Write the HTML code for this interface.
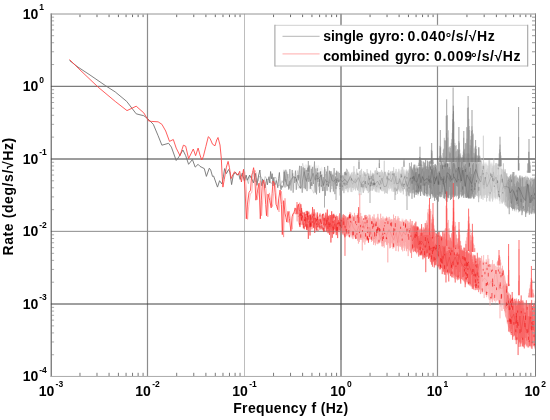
<!DOCTYPE html>
<html><head><meta charset="utf-8"><style>
html,body{margin:0;padding:0;background:#fff;}
svg{display:block;}
text{font-family:"Liberation Sans",Arial,sans-serif;font-weight:bold;fill:#000;}
.t{font-size:14px;}
.s{font-size:8.5px;}
.l{font-size:14px;}
</style></head><body>
<svg width="550" height="420" viewBox="0 0 550 420">
<rect width="550" height="420" fill="#fff"/>
<g fill="none"><path d="M147.5,13.85 V376.6" stroke="#8c8c8c" stroke-width="1.2"/><path d="M244.5,13.85 V376.6" stroke="#bdbdbd" stroke-width="1"/><path d="M341,13.85 V376.6" stroke="#4b4b4b" stroke-width="1"/><path d="M437.5,13.85 V376.6" stroke="#8c8c8c" stroke-width="1.2"/><path d="M50.9,86.4 H535.3" stroke="#7c7c7c" stroke-width="1.2"/><path d="M50.9,159 H535.3" stroke="#3a3a3a" stroke-width="1"/><path d="M50.9,231.35 H535.3" stroke="#8c8c8c" stroke-width="1"/><path d="M50.9,304 H535.3" stroke="#414141" stroke-width="1"/></g>
<defs><linearGradient id="gS" gradientUnits="userSpaceOnUse" x1="50.9" y1="0" x2="535.3" y2="0"><stop offset="0" stop-color="#7a7a7a"/><stop offset="0.51" stop-color="#8a8a8a"/><stop offset="0.59" stop-color="#8e8e8e"/><stop offset="0.62" stop-color="#c8c8c8"/><stop offset="0.73" stop-color="#c8c8c8"/><stop offset="0.75" stop-color="#8c8c8c"/><stop offset="0.87" stop-color="#8c8c8c"/><stop offset="0.89" stop-color="#cbcbcb"/><stop offset="0.93" stop-color="#cbcbcb"/><stop offset="0.95" stop-color="#949494"/><stop offset="1" stop-color="#949494"/></linearGradient><linearGradient id="gT" gradientUnits="userSpaceOnUse" x1="50.9" y1="0" x2="535.3" y2="0"><stop offset="0" stop-color="#555"/><stop offset="1" stop-color="#555"/></linearGradient><linearGradient id="gF" gradientUnits="userSpaceOnUse" x1="50.9" y1="0" x2="535.3" y2="0"><stop offset="0" stop-color="#d0d0d0" stop-opacity="0"/><stop offset="0.49" stop-color="#d0d0d0" stop-opacity="0"/><stop offset="0.51" stop-color="#cfcfcf" stop-opacity="0.3"/><stop offset="0.6" stop-color="#cfcfcf" stop-opacity="0.35"/><stop offset="0.62" stop-color="#d9d9d9" stop-opacity="1"/><stop offset="0.73" stop-color="#d9d9d9" stop-opacity="1"/><stop offset="0.75" stop-color="#b2b2b2" stop-opacity="1"/><stop offset="0.87" stop-color="#b2b2b2" stop-opacity="1"/><stop offset="0.89" stop-color="#dcdcdc" stop-opacity="1"/><stop offset="0.93" stop-color="#dcdcdc" stop-opacity="1"/><stop offset="0.95" stop-color="#b6b6b6" stop-opacity="1"/><stop offset="1" stop-color="#b6b6b6" stop-opacity="1"/></linearGradient><linearGradient id="gW" gradientUnits="userSpaceOnUse" x1="50.9" y1="0" x2="535.3" y2="0"><stop offset="0" stop-color="#6a6a6a"/><stop offset="0.6" stop-color="#5a5a5a"/><stop offset="0.62" stop-color="#747474"/><stop offset="0.73" stop-color="#747474"/><stop offset="0.75" stop-color="#4a4a4a"/><stop offset="0.88" stop-color="#4a4a4a"/><stop offset="0.89" stop-color="#8a8a8a"/><stop offset="0.93" stop-color="#8a8a8a"/><stop offset="0.95" stop-color="#4a4a4a"/><stop offset="1" stop-color="#4a4a4a"/></linearGradient><linearGradient id="rS" gradientUnits="userSpaceOnUse" x1="50.9" y1="0" x2="535.3" y2="0"><stop offset="0" stop-color="#ff3030"/><stop offset="0.51" stop-color="#f83232"/><stop offset="0.59" stop-color="#f83838"/><stop offset="0.62" stop-color="#fba4a4"/><stop offset="0.74" stop-color="#fba4a4"/><stop offset="0.75" stop-color="#f65a5a"/><stop offset="0.88" stop-color="#f86060"/><stop offset="0.89" stop-color="#fbb4b4"/><stop offset="0.93" stop-color="#fbb4b4"/><stop offset="0.95" stop-color="#f86060"/><stop offset="1" stop-color="#f86060"/></linearGradient><linearGradient id="rF" gradientUnits="userSpaceOnUse" x1="50.9" y1="0" x2="535.3" y2="0"><stop offset="0" stop-color="#fcb0b0" stop-opacity="0"/><stop offset="0.5" stop-color="#fcb0b0" stop-opacity="0"/><stop offset="0.51" stop-color="#f86a6a" stop-opacity="0.5"/><stop offset="0.6" stop-color="#f87070" stop-opacity="0.6"/><stop offset="0.62" stop-color="#fcb6b6" stop-opacity="1"/><stop offset="0.74" stop-color="#fcb6b6" stop-opacity="1"/><stop offset="0.75" stop-color="#fb8686" stop-opacity="1"/><stop offset="0.87" stop-color="#fb8c8c" stop-opacity="1"/><stop offset="0.89" stop-color="#fdc6c6" stop-opacity="1"/><stop offset="0.93" stop-color="#fdc6c6" stop-opacity="1"/><stop offset="0.95" stop-color="#fb8c8c" stop-opacity="1"/><stop offset="1" stop-color="#fb8c8c" stop-opacity="1"/></linearGradient><linearGradient id="rW" gradientUnits="userSpaceOnUse" x1="50.9" y1="0" x2="535.3" y2="0"><stop offset="0" stop-color="#e82020"/><stop offset="0.6" stop-color="#e82020"/><stop offset="0.62" stop-color="#f26a6a"/><stop offset="0.73" stop-color="#f26a6a"/><stop offset="0.75" stop-color="#e82020"/><stop offset="0.88" stop-color="#e82020"/><stop offset="0.89" stop-color="#f58080"/><stop offset="0.93" stop-color="#f58080"/><stop offset="0.95" stop-color="#e82020"/><stop offset="1" stop-color="#e82020"/></linearGradient></defs>
<path d="M69.5,60.5 78,67.1 90,75 105.7,85.8 115.2,91.9 126.7,101.4 136.2,113.8 140,114.8 143.8,115.7 147.6,118.6 153.3,124.3 158.1,135.7 161.9,145.2 168.6,143.3 171.4,147.1 176.2,160.5 179,156.7 182.9,150 185.7,155.7 188.6,164.3 192.4,159.5 195.2,167.1 198.1,164.3 200,166.4 204.3,168.6 206.4,176.4 209.3,168.2 210.7,170 212.5,176.4 213.6,176 217.5,187.1 219.6,180.7 221.8,183.9 222.9,180 224.6,168.6 226.4,173.6 228.6,169.5 229.8,172 231.6,184.6 233.3,175.1 235.4,172.1 237.1,175.1 238.6,173.5 240.1,179.4 242.3,173 244.4,181.1 246.1,175.1 247.4,180.3 249.6,175.1 251.7,178.6 253.4,182.9 255.6,173.4 256.9,185.4 258.5,176 259.9,170" fill="none" stroke="#727272" stroke-width="0.9" stroke-linejoin="round"/>
<path d="M259.9,170 261,180.34 261.8,185.84 262.6,178.98 263.4,183.06 264.2,183.98 265,187.96 265.8,183.88 266.6,178.9 267.4,184.79 268.2,180.13 269,176.67 269.8,182.99 270.6,171.49 271.4,178.82 272.2,173.66 273,185.94 273.8,177.56 274.6,185.23 275.4,184.43 276.2,180.54 277,183.57 277.8,187.71 278.6,178.28 279.4,172.46 280.2,184.91 281,189.69 281.8,185.49 282.6,187.37 283.4,185.45 284.2,171.73 285,180.46 285.8,179.33 286.6,183.92 287.4,185.45 288.2,184.83 289,188.45 289.8,180.75" fill="none" stroke="#747474" stroke-width="0.75" stroke-linejoin="round"/>
<path d="M246,177.98 247.2,180.55 248.4,183.66 249.6,175.98 250.8,177.85 252,178.21 253.2,171.32 254.4,175.01 255.6,181.83 256.8,178.29 258,181.16 259.2,176.64 260.4,176.23 261.6,177.58 262.8,182 264,182.35 265.2,176.56 266.4,178.34 267.6,179.88 268.8,179.51 270,181.01 271.2,183.6 272.4,182.04 273.6,177.46 274.8,177.7 276,177.58 277.2,184.32 278.4,185.7 279.6,185.06 280.8,185.28 282,180.68 283.2,182.94 284.4,171.58 285.6,181.89 286.8,171.59 288,178.26" fill="none" stroke="#8a8a8a" stroke-width="0.6" stroke-opacity="0.7" stroke-linejoin="round"/>
<path d="M290,174.83 290.5,173.06 291,170.87 291.5,170.68 292,173.34 292.5,172.49 293,171.8 293.5,171.75 294,171.76 294.5,171.42 295,173.67 295.5,172.11 296,169.52 296.5,169.86 297,172.98 297.5,171.93 298,172.84 298.5,167.9 299,170.15 299.5,170.36 300,170.12 300.5,170.49 301,169.81 301.5,167.79 302,168.12 302.5,168.67 303,169.35 303.5,165.38 304,164.5 304.5,166.51 305,164.95 305.5,164.11 306,164.59 306.5,164.81 307,164.42 307.5,166.52 308,167.45 308.5,166.16 309,164.64 309.5,164.59 310,164.31 310.5,165.87 311,165.39 311.5,164.35 312,167.38 312.5,166.28 313,166.76 313.5,164.04 314,166.83 314.5,165.76 315,168.02 315.5,164.63 316,166.28 316.5,164.26 317,166.82 317.5,166.31 318,164.54 318.5,165.46 319,165.26 319.5,168.28 320,169.17 320.5,167.42 321,168.65 321.5,166.64 322,166.6 322.5,169.76 323,171.88 323.5,169.82 324,170.37 324.5,169.33 325,169.81 325.5,172.71 326,171.14 326.5,173.09 327,173.76 327.5,173.95 328,173.15 328.5,170.72 329,172.44 329.5,173.4 330,173.99 330.5,173.09 331,170.96 331.5,173.15 332,172.37 332.5,172.66 333,172.46 333.5,171.84 334,172.99 334.5,172.72 335,171.84 335.5,173.78 336,172.02 336.5,173.59 337,175.44 337.5,171.36 338,173.81 338.5,172.03 339,173.4 339.5,171.33 340,171.36 340.5,173.16 341,171.99 341.5,175.21 342,172.66 342.5,173.77 343,172.78 343.5,175.58 344,171.29 344.5,172.38 345,174.42 345.5,173.1 346,174.74 346.5,172.86 347,172.6 347.5,172.12 348,171.75 348.5,175.55 349,172.02 349.5,174.61 350,172.14 350.5,174.97 351,174.7 351.5,175.85 352,173.06 352.5,175.15 353,172.87 353.5,173.52 354,172.26 354.5,171.69 355,171.3 355.5,174.58 356,173.13 356.5,171.45 357,175.93 357.5,175.67 358,173.42 358.5,175.71 359,173.61 359.5,175.53 360,172.2 360.5,175.39 361,174.44 361.5,172.11 362,174.6 362.5,173.81 363,171.3 363.5,174.68 364,172.62 364.5,171.92 365,175.05 365.5,174.94 366,174.58 366.5,173.34 367,174.65 367.5,171.02 368,175.35 368.5,172.42 369,175.08 369.5,172.23 370,175.31 370.5,173.87 371,174.95 371.5,174.33 372,174.38 372.5,172.94 373,174.32 373.5,173.46 374,173.65 374.5,174.2 375,172.41 375.5,170.67 376,172.43 376.5,175.06 377,172.04 377.5,173.01 378,171.32 378.5,172.99 379,170.81 379.5,173.04 380,175.39 380.5,170.74 381,172.04 381.5,173.15 382,174.1 382.5,172.03 383,170.8 383.5,173.1 384,173.57 384.5,170.45 385,170.74 385.5,175.26 386,170.38 386.5,174.17 387,174.9 387.5,171.33 388,172.54 388.5,174.62 389,171.66 389.5,173.92 390,171.68 390.5,171.71 391,171.29 391.5,174.59 392,173.16 392.5,170.83 393,170.76 393.5,170.88 394,175.2 394.5,170.81 395,173.02 395.5,170.67 396,171.09 396.5,174.54 397,171.99 397.5,171.2 398,172.99 398.5,170.53 399,174 399.5,170.38 400,170.75 400.5,172.68 401,174.28 401.5,174.38 402,171.89 402.5,173.27 403,173.34 403.5,170.69 404,173.97 404.5,170.73 405,174.72 405.5,170.99 406,169.57 406.5,168.99 407,171.74 407.5,169.51 408,172.3 408.5,169.37 409,169.55 409.5,170.38 410,166.58 410.5,166.47 411,169.24 411.5,168.56 412,169.76 412.5,168.66 413,167.91 413.5,166.9 414,165.6 414.5,168.73 415,166.73 415.5,168.85 416,168.4 416.5,164.62 417,168.07 417.5,167.25 418,165.3 418.5,168.3 419,168.57 419.5,165.59 420,165.72 420.5,167.9 421,166.02 421.5,164.67 422,168.46 422.5,166.25 423,167.33 423.5,167.43 424,167.73 424.5,165.62 425,164.39 425.5,167.48 426,166.09 426.5,165.76 427,167.07 427.5,163.52 428,167.07 428.5,167.37 429,162.71 429.5,164.97 430,165.09 430.5,166.72 431,166.17 431.5,162.07 432,164.7 432.5,166.49 433,165.28 433.5,165 434,164.23 434.5,166.15 435,164.62 435.5,163.62 436,165.23 436.5,165.48 437,164.96 437.5,165.52 438,161.28 438.5,162.41 439,161.13 439.5,163.34 440,160.93 440.5,161.7 441,161.66 441.5,161.24 442,165 442.5,162.02 443,160.06 443.5,161.46 444,161.49 444.5,163.89 445,161.5 445.5,162.93 446,160.82 446.5,159.67 447,161.7 447.5,162.65 448,163.73 448.5,163.2 449,159.56 449.5,161.89 450,163.02 450.5,159.04 451,158.63 451.5,160.5 452,158.43 452.5,157.99 453,161.26 453.5,161.78 454,157.65 454.5,161.72 455,161.93 455.5,160.49 456,158.52 456.5,160.23 457,158.86 457.5,159.89 458,158.82 458.5,160.54 459,160.5 459.5,161.02 460,156.37 460.5,157.23 461,157.18 461.5,157.64 462,157.98 462.5,158.27 463,157.31 463.5,155.46 464,158.68 464.5,159.01 465,156.27 465.5,159.62 466,155.63 466.5,156.87 467,157.25 467.5,158.26 468,157.07 468.5,157.3 469,159.22 469.5,155.93 470,158.86 470.5,156.88 471,158.96 471.5,159.16 472,159.33 472.5,160.12 473,158.34 473.5,157.77 474,155.77 474.5,157.98 475,159.76 475.5,156.9 476,157.1 476.5,157.93 477,160.65 477.5,159.05 478,157.38 478.5,158.28 479,160.3 479.5,162.45 480,161.94 480.5,160.46 481,161.65 481.5,160.87 482,162.39 482.5,163.83 483,164.74 483.5,160.53 484,164.77 484.5,163.41 485,161.56 485.5,164.59 486,161.68 486.5,163.8 487,165.09 487.5,165.9 488,162.4 488.5,166.17 489,165.45 489.5,165.05 490,164.83 490.5,162.04 491,164.88 491.5,163.07 492,161.75 492.5,166.25 493,162.1 493.5,165.71 494,164.52 494.5,165.63 495,165 495.5,163.63 496,165.3 496.5,165.96 497,163.94 497.5,162.84 498,165.03 498.5,162.24 499,166.73 499.5,163.36 500,164.29 500.5,166.94 501,167.7 501.5,166.42 502,169.67 502.5,169.87 503,168.16 503.5,171.42 504,168.05 504.5,171.45 505,172.26 505.5,170.96 506,173.84 506.5,175.27 507,176.52 507.5,176.21 508,176.53 508.5,177.62 509,176.16 509.5,176.06 510,176.61 510.5,177.15 511,177.23 511.5,174.46 512,173.48 512.5,174.09 513,176.12 513.5,178.55 514,176.65 514.5,175.56 515,176.93 515.5,174.51 516,176.01 516.5,174.17 517,178.57 517.5,176.75 518,176.74 518.5,178.44 519,178.7 519.5,175.75 520,177.06 520.5,178.19 521,175.07 521.5,177.89 522,175.62 522.5,176.54 523,176.94 523.5,177.86 524,176.73 524.5,176.9 525,176.9 525.5,175.26 526,179.36 526.5,175.56 527,178.18 527.5,176.07 528,177.33 528.5,178.14 529,177 529.5,180.26 530,179.08 530.5,176.56 531,179.29 531.5,177.82 532,177.98 532.5,177.32 533,179.42 533.5,178.44 534,177.08 534.5,177.77 535,179.41 535,213.21 534.5,214.41 534,212.36 533.5,214.61 533,211.73 532.5,211.69 532,213.58 531.5,214.76 531,212.41 530.5,213.52 530,214.08 529.5,211.46 529,213.4 528.5,212.46 528,210.54 527.5,213.41 527,213.05 526.5,213.14 526,214.67 525.5,214.12 525,212.23 524.5,211.86 524,210.64 523.5,211.26 523,211.41 522.5,214.1 522,212.12 521.5,210.84 521,210.4 520.5,210.62 520,212.16 519.5,210.68 519,211.86 518.5,212.89 518,209.57 517.5,209.36 517,209.29 516.5,209.96 516,212.66 515.5,207.83 515,210.17 514.5,211.71 514,209.31 513.5,207.83 513,210.65 512.5,211.03 512,207.76 511.5,208.7 511,206.94 510.5,206.8 510,207.39 509.5,206.7 509,209.78 508.5,207.04 508,208.87 507.5,208.15 507,207.22 506.5,205.53 506,207.08 505.5,205.66 505,205.36 504.5,204.82 504,202.09 503.5,202.69 503,201.13 502.5,203.88 502,202.47 501.5,202.07 501,202.37 500.5,198.8 500,199.66 499.5,201.28 499,201.62 498.5,196.8 498,197.5 497.5,200.07 497,198.77 496.5,199.27 496,196.45 495.5,200.83 495,197.99 494.5,196.4 494,200.2 493.5,199.43 493,195.66 492.5,197.74 492,200 491.5,197.42 491,199.67 490.5,197.88 490,195.38 489.5,198.85 489,195.98 488.5,195.95 488,194.81 487.5,195.03 487,195.61 486.5,199.02 486,195.2 485.5,194.56 485,196.07 484.5,195.54 484,195.37 483.5,198.26 483,195.47 482.5,198.92 482,195.85 481.5,197.03 481,198.92 480.5,195.14 480,195.14 479.5,197.23 479,199.34 478.5,194.99 478,197.89 477.5,196.06 477,195.9 476.5,195.79 476,195.12 475.5,195.09 475,197.58 474.5,198.78 474,199.09 473.5,199.35 473,197.74 472.5,196.95 472,196.36 471.5,196.88 471,195.8 470.5,197.91 470,198.21 469.5,197.2 469,198.63 468.5,198.39 468,197.94 467.5,196.37 467,197.78 466.5,197.74 466,196.77 465.5,196.59 465,193.98 464.5,193.58 464,197.07 463.5,193.68 463,196.64 462.5,193.49 462,197.92 461.5,196.71 461,196.84 460.5,194.72 460,194.14 459.5,196.56 459,193.79 458.5,194.28 458,196.33 457.5,195.93 457,195.3 456.5,196.84 456,197.76 455.5,194.58 455,196.69 454.5,194.72 454,198.4 453.5,194.3 453,196.32 452.5,194.81 452,193.79 451.5,196.36 451,195.33 450.5,197.32 450,194.64 449.5,194.89 449,195.95 448.5,194.82 448,198.42 447.5,197.15 447,196.27 446.5,195.32 446,197.45 445.5,196.29 445,198.72 444.5,198.32 444,198.17 443.5,198.12 443,198.45 442.5,195.33 442,194.03 441.5,194.84 441,197.86 440.5,197.28 440,196.2 439.5,197.12 439,196.95 438.5,194.85 438,198.76 437.5,196.22 437,196.32 436.5,193.85 436,197.19 435.5,196.06 435,198.34 434.5,194.7 434,195.47 433.5,197.51 433,195.6 432.5,196.58 432,193.79 431.5,194.07 431,194.06 430.5,196.43 430,195.69 429.5,195.26 429,197 428.5,193.3 428,197.16 427.5,193.62 427,193.99 426.5,194.99 426,196.83 425.5,192.49 425,195.85 424.5,192.82 424,195.49 423.5,195.37 423,194.96 422.5,193.8 422,191.67 421.5,192.04 421,191.61 420.5,195.23 420,191.26 419.5,191.67 419,193.76 418.5,194.16 418,193.46 417.5,193.87 417,192.43 416.5,194.17 416,192.9 415.5,191.85 415,194.51 414.5,194.33 414,192.09 413.5,193.79 413,193.69 412.5,193.33 412,192.51 411.5,190.43 411,191.78 410.5,193.22 410,190.97 409.5,193.3 409,193.12 408.5,191.8 408,191.6 407.5,192.29 407,189.93 406.5,188.51 406,191.35 405.5,191.88 405,189.42 404.5,188.48 404,188.97 403.5,192.79 403,189.39 402.5,192.38 402,188.8 401.5,192.8 401,190.58 400.5,189.33 400,191.99 399.5,192.34 399,188.36 398.5,189.57 398,192.51 397.5,192.15 397,189.21 396.5,188 396,189.21 395.5,189.97 395,187.92 394.5,192.19 394,188.54 393.5,190.2 393,191.04 392.5,187.59 392,191.14 391.5,191.38 391,188.49 390.5,188.83 390,188.79 389.5,189.14 389,192.1 388.5,187.84 388,191.52 387.5,191.82 387,188.08 386.5,188.2 386,190.26 385.5,190.15 385,191.76 384.5,189.85 384,189.4 383.5,191.94 383,190.94 382.5,191.84 382,190.8 381.5,191.45 381,190.09 380.5,187.91 380,187.53 379.5,191.31 379,187.78 378.5,188.26 378,190.7 377.5,187.8 377,191.2 376.5,189.91 376,188.21 375.5,187.17 375,191.39 374.5,189.78 374,188.67 373.5,187.55 373,190.68 372.5,190.8 372,191.08 371.5,190.97 371,189.2 370.5,190.55 370,191.57 369.5,187.8 369,189.05 368.5,189.76 368,186.56 367.5,191.34 367,189.69 366.5,190.14 366,191.37 365.5,187.11 365,191.27 364.5,190.89 364,188.46 363.5,188.44 363,188.68 362.5,186.53 362,190.89 361.5,186.29 361,188.81 360.5,190.88 360,189.99 359.5,187.31 359,188.38 358.5,189.11 358,190.29 357.5,189.51 357,186.91 356.5,188.39 356,188.54 355.5,188.46 355,189.88 354.5,188.23 354,189.99 353.5,190.83 353,189.81 352.5,186.82 352,188.29 351.5,186.57 351,190.9 350.5,186.96 350,187.51 349.5,191.03 349,186.7 348.5,190.13 348,188.44 347.5,187.13 347,189.68 346.5,190.56 346,191.02 345.5,191.11 345,188.46 344.5,191.5 344,187.74 343.5,187.35 343,188.79 342.5,189.42 342,191.32 341.5,187.48 341,191.56 340.5,189.06 340,191.21 339.5,187.33 339,187.91 338.5,187.78 338,191.99 337.5,187.22 337,187.3 336.5,190.47 336,189.37 335.5,188.44 335,187.95 334.5,188.29 334,188.64 333.5,190.95 333,187.98 332.5,187.73 332,190.76 331.5,189.63 331,187.05 330.5,188.49 330,191.31 329.5,190.25 329,191.47 328.5,190.15 328,189.3 327.5,191.32 327,191.8 326.5,188.73 326,187.12 325.5,188.47 325,187.28 324.5,189.09 324,187.25 323.5,191.56 323,190.83 322.5,190.16 322,191.54 321.5,187.83 321,189.77 320.5,190.52 320,191.81 319.5,187.88 319,189.53 318.5,190.34 318,190.94 317.5,191.58 317,190.76 316.5,189.72 316,188.16 315.5,190.77 315,188.81 314.5,186.83 314,191.54 313.5,190.42 313,186.96 312.5,189.95 312,187.17 311.5,190.89 311,188.31 310.5,189.82 310,190.96 309.5,189.26 309,187.42 308.5,190.33 308,188.92 307.5,188.61 307,186.67 306.5,188.56 306,187.64 305.5,187.32 305,186.48 304.5,190.18 304,189.93 303.5,190.28 303,186.75 302.5,189.7 302,189.72 301.5,187.59 301,188.84 300.5,189.1 300,189.72 299.5,186.03 299,188.73 298.5,188.89 298,188.45 297.5,188.17 297,189.37 296.5,188.79 296,186.29 295.5,190.44 295,189.8 294.5,189.32 294,189.6 293.5,189.2 293,188.24 292.5,187.87 292,187.74 291.5,186.85 291,187.56 290.5,188.82 290,189.35Z" fill="url(#gF)"/>
<path d="M284,169.79 285,187.47 285.87,169.74 286.91,186.56 287.89,173.91 288.74,189.68 289.86,169.08 291.04,190.6 292.21,169.96 293.14,192.69 294.02,176.69 294.71,183 295.44,170.61 296.31,189.81 297.47,175.32 298.45,180.34 299.55,165.83 300.32,188.63 301.17,166.05 302.23,192.71 303.09,167.38 304.15,188.23 304.81,168.22 305.44,189.22 306.13,169.95 307.02,191.12 307.92,167.94 308.73,181.88 309.67,165.55 310.28,188.93 311.34,168.74 312.05,185.93 312.67,166.88 313.48,184 314.5,161.44 315.21,192.65 315.92,168.5 316.54,194.33 317.2,171.85 317.93,181.91 318.88,172.46 319.59,192.82 320.35,171.64 321.19,186.55 321.78,174.34 322.43,191.1 323.31,177.09 323.93,190.96 324.61,167.02 325.39,195.77 326.13,173.92 327.07,190.72 327.72,165.86 328.5,186.7 329.47,170.67 330.32,192.19 331.05,171.22 331.94,186.53 332.84,174.93 333.37,191.57 334.11,168.03 334.91,194.16 335.46,176.41 335.99,189.07 336.67,170.74 337.29,185.8 338,171.69 338.51,182.36 339.31,172.99 340.21,195.58 340.84,172.56 341.46,187.6 342.23,175.18 342.73,190.6 343.41,175.53 343.95,193.16 344.46,172.18 344.88,184.58 345.43,171.5 345.99,188.98 346.47,168.76 347.08,188.18 347.47,169.63 347.99,192.24 348.64,171.71 349.14,187.77 349.7,176.68 350.14,187.16 350.48,174.7 351,191.81 351.5,172.6 351.86,192.09 352.19,180.09 352.62,188.02 352.97,171.86 353.42,187.98 353.9,166.15 354.45,186.53 354.93,177.84 355.5,190.55 355.87,175.25 356.37,182.23 356.71,168.81 357.22,182.17 357.75,172.37 358.3,190.96 358.83,178.27 359.16,195.23 359.57,171.26 360.04,192.11 360.44,170.33 361.01,195.05 361.55,168.86 362.02,187.73 362.59,176.95 363.13,192.76 363.66,171.11 364.02,186.86 364.58,175.69 364.95,187.62 365.37,174.41 365.87,185.06 366.31,176.81 366.63,184.64 367.11,169.02 367.55,190.89 367.96,177.28 368.31,193.09 368.63,173.83 369.17,191.89 369.51,177.66 370.09,190.74 370.58,170.51 370.97,186.02 371.48,176.11 371.92,183.17 372.27,172.71 372.71,190.33 373.07,173.01 373.52,189.08 374.07,174.01 374.54,184.79 374.95,170.55 375.35,191.38 375.69,170.3 376.09,191.84 376.57,167.73 376.98,192.38 377.5,170.85 378.05,187.44 378.39,172 378.95,192.61 379.47,172.2 379.84,187.8 380.16,172.24 380.49,189.59 380.98,175.13 381.32,190.46 381.64,169.93 382.06,188.79 382.47,172.11 382.88,182.38 383.32,176.4 383.73,190.48 384.27,160.72 384.64,193.69 385.12,171.9 385.52,192.61 386,178 386.5,193.12 386.94,176.53 387.38,193.64 387.78,172.58 388.29,188.14 388.7,170.09 389.19,185.02 389.63,179.51 390.14,186.44 390.68,171.6 391.22,187.65 391.78,178.55 392.15,184.94 392.64,178.67 393.1,191.74 393.64,167.28 394.01,191.66 394.36,174.59 394.72,189.7 395.26,179.44 395.7,195.08 396.1,168.94 396.66,185.39 397.11,179.13 397.47,193.93 397.85,177.82 398.39,189.18 398.84,168.82 399.16,187.57 399.49,178.29 399.85,190.84 400.3,176.51 400.8,192.79 401.18,169.76 401.56,188.2 402.02,167.04 402.36,190.7 402.76,166.78 403.34,194.37 403.9,169.57 404.48,189.16 404.86,174.4 405.24,187.07 405.8,176.33 406.29,196.1 406.74,171.63 407.23,191.35 407.62,178.68 408.1,194.85 408.53,172.97 408.98,196.3 409.45,162.92 409.98,185.39 410.54,166.42 410.92,193.29 411.43,162.42 411.97,198.83 412.45,170.38 412.82,189.98 413.25,171.59 413.58,189.44 413.97,164.72 414.36,197.47 414.83,164.62 415.26,185.3 415.75,173.68 416.07,195.01 416.5,171.99 416.95,191.7 417.38,170.26 417.96,192.4 418.41,174.37 418.89,192 419.28,167.02 419.78,190.8 420.17,163.86 420.59,195.98 421.13,160.68 421.63,190.68 422.1,175.6 422.67,185.64 423.25,161.52 423.6,184.44 424.08,171.41 424.4,195.74 424.73,162.61 425.11,186.23 425.67,159.63 426.19,190.3 426.7,169.01 427.11,196.43 427.61,160.7 427.95,184.31 428.35,169.46 428.69,184.98 429.11,161.8 429.6,188.14 429.98,160.88 430.42,198.77 430.9,171.91 431.32,189.31 431.74,160.01 432.14,194.29 432.62,159.88 433.18,186.13 433.59,167.67 433.92,197.48 434.29,170.39 434.62,200.93 435.06,164.36 435.52,197.71 436.04,168.58 436.57,199.64 437.06,172.96 437.55,194.98 437.91,175.26 438.36,201.58 438.76,171.57 439.08,195.37 439.59,171.35 440.13,184.88 440.6,165.07 441.11,196.99 441.67,160.89 442.09,192.31 442.45,164.84 442.78,189.39 443.19,168.53 443.53,185.11 443.94,169.85 444.36,198.55 444.75,161.89 445.29,183.06 445.83,156.77 446.16,200.51 446.6,163.13 446.93,201.92 447.34,163.33 447.86,197.4 448.42,168.74 448.76,198.21 449.29,167.14 449.74,186.92 450.07,169.07 450.54,200.03 451.09,175.91 451.49,199 451.89,159.02 452.3,197.36 452.8,163.69 453.23,180.49 453.81,162.76 454.26,196.86 454.8,164.46 455.15,195.7 455.56,169.68 456.02,183.48 456.36,168.01 456.77,185.94 457.27,160.16 457.73,186.62 458.26,156.36 458.6,199.12 458.94,154.33 459.25,197.95 459.73,157.39 460.16,182.79 460.61,167.65 461.1,191.95 461.64,158.14 462.03,195.8 462.44,167.67 462.95,194.94 463.4,170.09 463.81,197.87 464.25,165.65 464.81,185.83 465.38,164.11 465.78,197.72 466.25,167.53 466.65,198.01 467.07,153.53 467.61,197.3 468.02,173.77 468.36,197.69 468.76,153.32 469.28,198.27 469.66,171.79 470.13,198.56 470.58,167.93 471.16,198.29 471.73,174.04 472.06,194.22 472.56,164.6 473.06,192.07 473.52,163.12 474.02,184.72 474.53,171.47 474.96,196.84 475.31,158.08 475.7,193.92 476.15,154.67 476.65,183.18 477.18,155.65 477.67,192.53 478.15,163.99 478.65,202.16 479.02,162.64 479.46,183.84 480.01,156.78 480.56,195.23 481.02,158.38 481.36,198.84 481.7,166.19 482.02,187.6 482.5,173.72 483.03,199.84 483.37,135.68 483.83,195.16 484.25,166.19 484.78,197.96 485.34,172.05 485.9,194.57 486.23,169.72 486.59,201.52 487.08,176.4 487.5,198.04 487.9,168.3 488.4,193.17 488.95,160.21 489.28,200.83 489.63,160.32 490,201.52 490.44,172.42 490.78,195.3 491.1,178.66 491.62,190.37 492.17,168.17 492.55,201.48 493.07,166.28 493.4,186.58 493.84,158.26 494.31,192.89 494.74,175.96 495.24,198.29 495.63,163.16 496,189.87 496.51,163.13 497.07,188.26 497.44,175.16 497.97,196.74 498.35,168.85 498.74,187.94 499.14,179.93 499.66,197.66 500.02,174.7 500.39,192.24 500.91,174.72 501.33,191.16 501.67,169.09 502.07,203.5 502.39,177.9 502.89,189.21 503.38,163.39 503.85,200.53 504.24,171.78 504.58,191.5 505.13,169.37 505.63,202.28 505.97,183.37 506.31,196.71 506.77,173.33 507.2,206.65 507.75,182.41 508.33,200.46 508.69,182.02 509.23,214.18 509.6,181.01 510.03,198.83 510.44,174.65 510.95,203.11 511.34,187.6 511.66,207.77 512.13,186.06 512.51,209.04 513,172 513.54,208.7 513.87,172.01 514.29,209.07 514.62,183.85 515.19,199.46 515.63,186.41 516.04,205.24 516.52,182.64 516.94,204 517.42,180.97 517.83,204.04 518.22,182.12 518.6,209.94 519.02,183.2 519.53,211.23 519.92,175.48 520.26,207.91 520.6,179.37 521.06,209.66 521.56,186.58 521.98,215.15 522.51,178.17 522.84,202.99 523.3,186.8 523.63,202.36 524.21,186.63 524.77,199.26 525.33,186.1 525.66,216.97 526.15,181.58 526.57,212.08 527.01,180.06 527.55,210.72 528.11,183.64 528.57,206.79 529.02,184.53 529.36,214.68 529.69,192.14 530.06,208.25 530.58,181.61 531.06,202.98 531.47,186.62 531.98,213.69 532.55,184.56 532.91,209.86 533.35,181.55 533.67,206.1 534.21,178.96 534.79,212.55 535.19,176.36" fill="none" stroke="url(#gS)" stroke-width="0.6" stroke-linejoin="round"/>
<path d="M290,185.65 291.36,180.14 293.32,176.33 295.74,177.8 298.73,185.72 301.18,188.14 304.1,171.62 306.48,181.45 308.15,172.74 310.44,181.25 313.06,173.28 315.15,180.3 316.72,174.51 318.41,179.01 321.27,175.1 323.19,185.65 325.53,179.53 328.48,186.46 330.75,173.89 331.98,180.46 333.79,181.32 336.18,178.58 338.07,181.37 340.3,179.51 342.26,181.77 345.07,179.37 347.69,182.75 350.15,176.48 352.59,180.65 355.43,182.82 358.4,177.56 361.17,184.35 363.66,180.72 366.33,188.21 368.9,175.79 370.74,186.4 372.96,174.58 374.79,184.58 377.37,181.16 379.63,185.21 381.97,178.1 383.93,186.53 386.37,186.22 388.39,178.54 391.26,181.64 394.11,173.18 396.33,183.61 398.41,183.43 399.65,178.61 401.94,185.65 403.19,180.64 404.44,176.96 407.39,186.54 410.34,177.76 412.01,183.74 413.74,176.17 414.96,180.39 416.91,182.35 419.11,173.77 420.93,182.8 422.36,176.64 424.26,180.65 427.26,178.4 429.96,182.57 431.92,169.34 434.34,184.02 436.55,177.31 438.17,184.66 439.51,172.79 441.21,180.19 443.26,178.69 445.42,193.83 447.1,172.7 449.65,174.6 451.43,180.24 454.2,176.88 456.91,182.23 458.64,167.15 461.47,181.01 462.73,170.18 465.23,186.55 466.92,174.9 468.74,178.42 471.63,183.62 473.76,175.09 475.74,169.42 478.11,177.36 480.78,182.06 482.63,169.9 483.86,185.16 485.17,177.66 486.92,186.77 489.8,179.88 491.94,174.18 493.32,181.49 496.08,177.15 498.7,194.9 501.46,174.41 503.73,186.84 506.36,186.6 508.88,187.43 510.1,192.98 512.31,189.55 513.68,191.19 516.57,200.97 518.35,187.23 520.75,191.35 522.83,197.05 525.3,200.65 527.46,183.86 530.05,203.02 531.54,195.26 533.13,198.3 534.62,194.22" fill="none" stroke="url(#gW)" stroke-width="0.5" stroke-opacity="0.7" stroke-linejoin="round"/>
<path d="M290,181.45 291.73,178.05 293.63,177.05 296.07,181.6 297.7,170.48 299.98,183.34 302.73,163.19 305.54,179.63 308.91,177.92 310.92,186.93 313.69,193.29 315.66,174.7 318.65,186.79 320.4,174.72 323.55,185.21 325.82,169.17 327.98,182.19 330.1,183.08 332.79,173.81 335.07,184.31 337.61,178.05 339.33,181.96 341.77,176.08 343.81,178.23 346.8,182.48 349.73,178.57 352.65,184.32 355.5,178.72 357.32,190.24 360.15,174.97 363.4,192.79 365.04,177.28 368.09,172.94 369.66,186.45 372.31,178.59 374.31,182.04 376.78,187.07 379.79,179.93 381.73,184.27 384.87,171.94 387.28,180.28 390.31,178.73 392.07,170.96 394.18,184.14 396.06,176.01 397.89,190.43 399.42,180.61 402.42,188.5 404.21,189.03 405.75,181.02 409.09,195.75 412.11,167.55 413.97,181.33 415.6,172.21 417.94,195.47 419.8,181.31 422.31,168.77 424.57,191.95 426.62,193.63 428.85,175.59 432.31,197.81 435.4,167.02 438.87,184.83 441.25,176.83 444.11,186.78 447.01,175.44 450.5,181.7 453.93,163.05 455.85,172.38 458.85,167.26 460.69,181.53 462.6,158.49 465.91,187.33 468.25,198.46 470.19,176.54 473.35,198.31 476.33,164.34 478.62,183.54 480.62,175.9 484.06,188.73 486.71,172.06 488.31,175.07 491.62,191.82 493.48,171.88 495.56,184.02 498.03,181.4 499.91,203.82 502.79,186.86 505.47,188.98 508.08,180.17 511.52,203.68 513.15,191.08 516.06,197.37 518.12,206.01 519.67,187.71 522.29,208.71 524.9,209.86 528.36,185.09 531.29,202.37 534.28,187.55" fill="none" stroke="url(#gW)" stroke-width="0.45" stroke-opacity="0.4" stroke-linejoin="round"/>
<path d="M379.75,175.67 v1.27 M450.03,175.26 v3.96 M498.63,191.1 v1.15 M426.06,182.16 v1.15 M406.95,177.04 v1.65 M485.27,177.16 v1.31 M380.42,187 v2.17 M335.9,172.71 v2.54 M453.55,173.59 v3.54 M418.5,185.73 v2.7 M434.75,176.95 v1.33 M462.62,186.4 v3.18 M392.79,173.59 v1.56 M425.06,183.47 v1.08 M521.02,198.81 v3.17 M532.1,198.39 v2.48 M344.98,182.75 v3.1 M523.42,206 v2.47 M498.87,194.14 v2.25 M438.56,181.33 v2.44 M404.92,175.85 v1.56 M365.55,181.07 v2.98 M490.74,173.41 v2.55 M401.07,173.78 v3.95 M372.2,182.71 v3.07 M478.86,186.95 v3.84 M368.61,182.85 v1.95 M362.98,184.06 v3.25 M469.31,163.11 v3.9 M443.94,176.35 v3.74 M317.37,173.02 v1.43 M370.23,185.03 v1.45 M476.53,180.1 v1.99 M498.19,167.52 v1.73 M412.56,176.68 v2.15 M534.31,196.37 v2.98 M401.68,175.58 v1.31 M475.12,182.94 v3.97 M351.57,178.41 v2.13 M430.55,166.38 v3.39 M469.53,162.6 v3.14 M373.12,179.28 v1.6 M458.56,179.19 v1.07 M326.63,183.89 v1.4 M404.37,183.69 v1.51 M411.97,177.51 v1.42 M483.23,165.74 v3.48 M369.84,178.06 v1.67 M499.36,195.73 v1.57 M443.99,164.98 v2.19 M343.87,182.7 v1.61 M439.99,191.9 v1.75 M321.48,185.45 v1.16 M471.32,189.05 v1.4 M416.24,190.36 v1.45 M494.38,185.61 v1.22 M331.82,187.48 v1.2 M377.22,172.74 v1.77 M342.42,185.48 v1.24 M317.29,177.99 v1.6 M417.32,168.69 v1.56 M374.07,183 v3.48 M336.38,179.52 v3.57 M420.64,185.3 v3.55 M371.09,181.68 v2.61 M339.97,183.25 v3.62 M299.27,186.63 v1.16 M388.88,173.15 v2.14 M429.35,179.02 v2.06 M417.88,183.2 v2.96 M327.14,180.94 v1.2 M447.46,164.07 v2.67 M346.1,172.94 v2.46 M365,172.43 v3.35 M346.9,182.69 v2.25 M483.17,173.07 v1.39 M374.27,183.06 v1.94 M491.78,175.91 v1.57 M431.01,180.49 v2.75 M296.54,178.88 v2.78 M326.57,171.41 v2.41 M445.34,163.81 v3.37 M371.16,176.14 v2.73 M311.35,182.18 v3.71 M295.28,176.93 v1.23 M319.24,182.74 v3.08 M345.13,172.02 v2.88 M403.24,183.75 v3.31 M492.85,178.12 v2.8 M516.88,189.73 v2.49 M373.6,182.32 v2.73 M472.11,185.49 v1.37 M502.75,192.09 v1.32 M387.24,176.23 v3.11 M534.62,192.82 v2.02 M408.97,187.11 v1.54 M465.43,168.94 v3.07 M502.19,178.9 v3.61 M443.28,179.56 v2.86 M320.73,171.18 v2.88 M511.53,179.49 v2.74 M517.54,197.13 v3.35 M497.52,180.34 v2.64 M508.97,178.48 v3.08 M474.74,187.43 v2.61 M490.15,192.4 v1.14 M292.8,173.34 v3.08 M330.07,171.24 v2.91 M340.77,175.31 v3.05 M424.1,183.9 v2.05 M443.19,182.93 v1.03 M435.56,178.13 v2.53 M396.64,188.57 v2.68 M339.89,188.09 v1.12 M361.26,184.08 v3.01 M336.42,184.22 v1.91 M436.69,175.82 v2.43 M442.68,165.67 v3.25 M357.86,173.36 v1.64 M317.53,168.16 v3.18 M319.48,178.9 v3.55 M298.82,174.98 v3.48 " stroke="#5a5a5a" stroke-width="0.7" stroke-opacity="0.7" fill="none"/>
<path d="M306.91,171.59 V170.51 M307.36,171.59 V169.46 M307.81,171.59 V167.46 M308.26,171.59 V165.52 M308.71,171.59 V166.87 M309.16,171.59 V167.73 M309.61,171.59 V170.74 M358.97,169.05 V161.98 M379.27,168.03 V163.23 M379.72,168.03 V167.61 M403.97,166.8 V161.3 M418.24,166 V164.97 M418.69,166 V162.68 M419.14,166 V160.07 M419.59,166 V156.82 M420.04,166 V157.18 M420.49,166 V159.07 M420.94,166 V158.44 M421.39,166 V163.87 M421.84,166 V165.01 M429.94,163.66 V162.15 M430.39,163.66 V161 M430.84,163.66 V159.3 M431.29,163.66 V149.89 M431.74,163.66 V153.13 M432.19,163.66 V150.79 M432.64,163.66 V158.34 M433.09,163.66 V159.15 M433.54,163.66 V162.55 M438.91,162 V157.61 M439.36,162 V155.83 M439.81,162 V145.85 M440.26,162 V148.04 M440.71,162 V146.73 M441.16,162 V155.42 M441.61,162 V157.18 M442.45,162 V158.28 M442.9,162 V153.04 M443.35,162 V149.6 M443.8,162 V148.54 M444.25,162 V137.83 M444.7,162 V140.15 M445.15,162 V140.93 M445.6,162 V140.28 M446.05,162 V115.79 M446.5,162 V132.94 M446.95,162 V115.83 M447.4,162 V115.08 M447.85,162 V137.52 M448.3,162 V130.27 M448.75,162 V147.49 M449.2,162 V151.54 M449.65,162 V146.61 M450.1,162 V152.86 M450.55,162 V153.11 M451,162 V157.13 M452.08,162 V150.51 M452.53,162 V130.02 M452.98,162 V123.52 M453.43,162 V110.99 M453.88,162 V139.35 M454.33,162 V156.58 M449.05,162 V159.11 M449.5,162 V153.98 M449.95,162 V152.54 M450.4,162 V147.76 M450.85,162 V145.96 M451.3,162 V142.77 M451.75,162 V139.14 M452.2,162 V132.94 M452.65,162 V119.19 M453.1,162 V113.82 M453.55,162 V111.41 M454,162 V121.64 M454.45,162 V144.99 M454.9,162 V142.92 M455.35,162 V145.9 M455.8,162 V151.49 M456.25,162 V145.18 M456.7,162 V150.65 M457.15,162 V156.57 M457.04,162 V157.08 M457.49,162 V149.19 M457.94,162 V149.28 M458.39,162 V150.45 M458.84,162 V141.05 M459.29,162 V142.74 M459.74,162 V149.61 M460.19,162 V155.36 M460.64,162 V153.38 M461.49,162 V159.8 M461.94,162 V156.79 M462.39,162 V157 M462.84,162 V154.9 M463.29,162 V151.47 M463.74,162 V137.77 M464.19,162 V149.66 M464.64,162 V152.76 M465.09,162 V153.97 M465.54,162 V158.83 M465.99,162 V158.67 M463.85,162 V156.26 M464.3,162 V157.18 M464.75,162 V148.69 M465.2,162 V143.29 M465.65,162 V143.05 M466.1,162 V143.25 M466.55,162 V127.14 M467,162 V138.65 M467.45,162 V107.84 M467.9,162 V127.56 M468.35,162 V107.33 M468.8,162 V118.91 M469.25,162 V126.05 M469.7,162 V130.06 M470.15,162 V148.13 M470.6,162 V150.35 M471.05,162 V145.96 M471.5,162 V150.87 M471.95,162 V156.89 M472.4,162 V157.06 M469.22,162 V155.37 M469.67,162 V153.91 M470.12,162 V145.1 M470.57,162 V139.73 M471.02,162 V135.91 M471.47,162 V130.99 M471.92,162 V126.28 M472.37,162 V129.95 M472.82,162 V134.87 M473.27,162 V133.56 M473.72,162 V152.97 M474.17,162 V148.39 M474.62,162 V153.32 M475.07,162 V158.47 M473.29,162 V160.58 M473.74,162 V158.64 M474.19,162 V157.14 M474.64,162 V155.51 M475.09,162 V146.61 M475.54,162 V151.74 M475.99,162 V145.8 M476.44,162 V148.9 M476.89,162 V155.74 M477.34,162 V159.04 M477.79,162 V160.18 M477.04,162 V160.64 M477.49,162 V158.16 M477.94,162 V155.6 M478.39,162 V157.16 M478.84,162 V148.11 M479.29,162 V155.86 M479.74,162 V155.49 M480.19,162 V159.8 M480.64,162 V161.01 M498.24,166.36 V163.87 M498.69,166.36 V159.14 M499.14,166.36 V153.36 M499.59,166.36 V149.36 M500.04,166.36 V144.62 M500.49,166.36 V152.06 M500.94,166.36 V155.49 M501.39,166.36 V159.83 M518.25,170.42 V156.02 M518.7,170.42 V137.05 M519.15,170.42 V163.2 M527.24,172.69 V170.52 M527.69,172.69 V163.54 M528.14,172.69 V163.06 M528.59,172.69 V151.84 M529.04,172.69 V151.78 M529.49,172.69 V160.18 M529.94,172.69 V161.84 M530.39,172.69 V165.36 " stroke="#969696" stroke-width="0.6" fill="none"/><path d="M308.3,171.59 V161 M359,169.05 V160 M379.3,168.03 V159.5 M404,166.8 V159.5 M420,166 V146.7 M431.7,163.66 V143 M440.3,162 V130 M446.7,162 V99.3 M453.1,162 V87.5 M453.3,162 V105.7 M458.9,162 V127 M463.8,162 V131 M468.1,162 V96 M472,162 V110 M475.6,162 V140 M478.8,162 V147 M500,166.36 V136.7 M518.6,170.42 V107 M529,172.69 V139 " stroke="#7a7a7a" stroke-width="0.7" fill="none"/>
<path d="M324.5,187 V207.6 M370,186.6 V203 M407,188.57 V210 M395,187.6 V200 M336,187 V200 " stroke="#999" stroke-width="0.8" fill="none"/>
<path d="M69.5,59.5 78.1,68.1 98.1,87.1 115.2,101.4 127,110.6 136.2,106.2 143.8,112.9 148.6,120.9 151.4,121.4 158.1,121.8 161.9,124.3 165.7,131 169.5,141.4 173.3,139.5 176.2,148.1 180,155.7 183.4,145.2 185.7,146.2 188.6,158.6 193.3,149 195.6,155.7 198.1,148.1 200,155 201.7,160 203.3,156.7 205.8,146.7 208.3,136.7 210,138.3 212.5,144.2 215,145.8 216.7,140 218,137.5 220,145 221.3,158.3 222.2,176.7 222.9,187.1 224.3,179.3 226.4,167.1 228.1,161.4 229.4,167.4 231.1,178.6 232.9,174.7 234.6,171.7 236.3,173.9 238,175.1 239.7,171.3 241.4,182 243.5,169.3 245.1,191 246.3,218.8 247.4,204.9 249,192.5 250.5,190.2 251.6,175.5 252.6,172.58 253.6,167.7 254.7,175.5 255.9,200.2 257.5,191 259,183.2 260.3,218.8 261.3,200.2 262.4,183.2 263.7,180.1 264.9,191 265.7,204.34 266.5,215.7 268,194.1 268.9,197.45 269.8,200.7 271.2,207.9 272.1,193.81 273,181.1 274.2,183 275.1,192.22 276,204.3 276.9,206.58 277.8,209.6 278.7,198.9 280.1,190 281.4,204.3 282.3,234.6 283.7,200.7 285,213.2 285.9,217.36 286.8,222.1 288,211.4 289.4,218.6 290.9,231.1 292.1,216.8 293,213.54 293.9,213.2 295.1,207.9 296.7,213 297.55,207.21 298.4,204.3 299.2,209.45 300,211.4" fill="none" stroke="#ff4040" stroke-width="0.85" stroke-linejoin="round"/>
<path d="M244.8,171.52 246.4,189.72 247.6,219.42 248.7,206.57 250.3,193.8 251.8,192.69 252.9,177.66 253.9,174.07 254.9,170.21 256,172.66 257.2,199.82 258,194.8 258.8,190.91 260.3,180.59 261.6,215.83 262.6,202.18 263.7,186.1 265,181.81 266.2,189.89 267,202.94 267.8,216.93 269.3,192.9 270.2,197.07 271.1,202.14 272.5,206.58 273.4,196.44 274.3,182.8 275.5,185.93 276.4,197.05 277.3,207.22 278.2,210.18 279.1,211.9 280,201.38 281.4,191.25 282.7,204.63 283.6,237.14 285,198.24 286.3,212.42 287.2,216.97 288.1,222.74 289.3,211.27 290.7,220.36 292.2,229.27 293.4,214.17 294.3,213.21 295.2,210.96 296.4,210.68 298,210.8 298.85,205.37 299.7,202.66 300.5,205.05 301.3,210.66" fill="none" stroke="#ff5a5a" stroke-width="0.7" stroke-opacity="0.6" stroke-linejoin="round"/>
<path d="M296,208.63 296.5,207.97 297,208.45 297.5,210.14 298,207.75 298.5,207.89 299,209.54 299.5,210.92 300,209.72 300.5,211.12 301,210.29 301.5,210.19 302,211.12 302.5,210.01 303,212.3 303.5,213.28 304,213.19 304.5,214.21 305,210.86 305.5,213.99 306,214.59 306.5,210.85 307,212.53 307.5,212.44 308,213.3 308.5,211.72 309,211.46 309.5,214.58 310,213.33 310.5,215.4 311,213.31 311.5,213.66 312,211.71 312.5,214.46 313,211.33 313.5,212.23 314,213.49 314.5,212.24 315,211.65 315.5,213.37 316,213.61 316.5,214.56 317,215.87 317.5,212.82 318,215.99 318.5,216.65 319,212.93 319.5,213.2 320,214.11 320.5,212.52 321,213.95 321.5,215.12 322,215.46 322.5,213.48 323,214.35 323.5,212.91 324,213.7 324.5,216.34 325,214.08 325.5,216.71 326,214.8 326.5,213.94 327,217.17 327.5,213.39 328,216.46 328.5,215.83 329,214.92 329.5,213.77 330,217.26 330.5,215.95 331,217.14 331.5,214.73 332,213.73 332.5,217.23 333,215.89 333.5,214.37 334,214.1 334.5,213.61 335,215.44 335.5,216.41 336,215.15 336.5,213.88 337,216.44 337.5,217.39 338,218.7 338.5,215.71 339,214.88 339.5,217.71 340,218.28 340.5,215.33 341,218.57 341.5,217.18 342,215.82 342.5,214.15 343,215.31 343.5,215.97 344,215.97 344.5,218.17 345,217.35 345.5,215.8 346,215.51 346.5,217.44 347,215.89 347.5,217.3 348,218.44 348.5,218.71 349,215.55 349.5,216.9 350,216.54 350.5,216.59 351,216.19 351.5,215.46 352,217.84 352.5,214.56 353,215.61 353.5,216.73 354,218.69 354.5,215.71 355,217.59 355.5,214.78 356,215.24 356.5,215.86 357,217.82 357.5,217.47 358,217.32 358.5,218.01 359,215.38 359.5,219.12 360,218.37 360.5,215.96 361,215.93 361.5,218.36 362,215.32 362.5,219.31 363,219.42 363.5,218.95 364,217.8 364.5,219.81 365,219.65 365.5,219.08 366,215.99 366.5,217.46 367,217.2 367.5,217.15 368,217.27 368.5,218.39 369,217.74 369.5,217.52 370,216.11 370.5,217.77 371,218.05 371.5,219.85 372,216.54 372.5,215.92 373,217.29 373.5,217.08 374,218.87 374.5,217.28 375,218.88 375.5,217.7 376,220.67 376.5,217.31 377,217.74 377.5,216.04 378,219.04 378.5,216.6 379,218.68 379.5,218.67 380,220.41 380.5,220.32 381,220.82 381.5,220.78 382,218.93 382.5,220.32 383,217.35 383.5,219.92 384,217.15 384.5,219.57 385,217.03 385.5,219.77 386,220.68 386.5,221.47 387,217.74 387.5,219.89 388,216.98 388.5,218.43 389,220.05 389.5,218.25 390,220.67 390.5,219.4 391,217.74 391.5,221.43 392,221.65 392.5,219.21 393,219.8 393.5,218.89 394,221.16 394.5,222.21 395,220.87 395.5,220.27 396,218.61 396.5,221.73 397,221.54 397.5,220.81 398,217.83 398.5,220.45 399,221.28 399.5,220.82 400,221.93 400.5,220.53 401,221.82 401.5,221.81 402,217.82 402.5,221.5 403,218 403.5,221.26 404,221.44 404.5,222.84 405,221.33 405.5,218.59 406,219.96 406.5,218.93 407,219.36 407.5,223.16 408,220.54 408.5,223.37 409,221.23 409.5,222.43 410,222.42 410.5,225.22 411,225.25 411.5,222.07 412,226.61 412.5,226.64 413,224.01 413.5,225.51 414,225.48 414.5,227.7 415,226.47 415.5,226.06 416,228.22 416.5,226.76 417,227.7 417.5,226.4 418,226.55 418.5,227.05 419,228.12 419.5,229.07 420,230.16 420.5,228.02 421,229.28 421.5,226.7 422,226.79 422.5,229.59 423,230.08 423.5,226.99 424,227.6 424.5,230.09 425,227.98 425.5,227.66 426,230.71 426.5,228.22 427,230.65 427.5,228.94 428,229.78 428.5,228.77 429,231.8 429.5,231.2 430,232.78 430.5,234.03 431,231.66 431.5,230.68 432,232.98 432.5,233.37 433,232.78 433.5,233.84 434,235.31 434.5,232.08 435,231.96 435.5,235.35 436,235.41 436.5,232.87 437,233.45 437.5,236.58 438,237.97 438.5,238.05 439,236.02 439.5,235.6 440,234.91 440.5,234.44 441,237.49 441.5,235.86 442,239.54 442.5,236.39 443,238.64 443.5,236.72 444,236.72 444.5,237.2 445,236.76 445.5,238.95 446,239.88 446.5,238.22 447,240.94 447.5,240.08 448,240.63 448.5,239.79 449,239.64 449.5,241.83 450,240.87 450.5,240.43 451,240.65 451.5,241.67 452,242.14 452.5,242.06 453,241.79 453.5,243.21 454,242.74 454.5,243.73 455,245.18 455.5,245.99 456,246.11 456.5,244.43 457,244.48 457.5,244.86 458,248.16 458.5,246.29 459,245.02 459.5,249.64 460,246.79 460.5,249.74 461,249.61 461.5,250.81 462,248.28 462.5,249.39 463,251.21 463.5,250.42 464,251.22 464.5,250.65 465,251.15 465.5,251.89 466,250.86 466.5,248.93 467,251.31 467.5,250.68 468,252.06 468.5,252.45 469,252.13 469.5,252.92 470,253.93 470.5,255.12 471,254.89 471.5,252.25 472,252.22 472.5,257.03 473,254.56 473.5,254.56 474,255.94 474.5,255 475,254.41 475.5,255.25 476,258.76 476.5,258.09 477,259.38 477.5,259.23 478,256.03 478.5,258.93 479,258.07 479.5,257.21 480,260.28 480.5,259.83 481,261.46 481.5,260.68 482,258.56 482.5,261.91 483,259.25 483.5,262.39 484,259.85 484.5,262.34 485,261.42 485.5,263.17 486,261.01 486.5,260.5 487,262.94 487.5,260.73 488,260.9 488.5,260.65 489,264.23 489.5,264.81 490,265.16 490.5,265.83 491,264.76 491.5,264 492,263.37 492.5,265.87 493,265.33 493.5,263.8 494,264.26 494.5,263.15 495,265.14 495.5,266.12 496,265.49 496.5,267.43 497,264.6 497.5,266.81 498,267.28 498.5,266.88 499,264.88 499.5,266.42 500,267.15 500.5,266.88 501,267.21 501.5,268.75 502,268.24 502.5,267.63 503,269.03 503.5,270.45 504,271.92 504.5,276.04 505,275.1 505.5,280.1 506,282.57 506.5,284.24 507,287.21 507.5,289.92 508,291.43 508.5,292.18 509,298.04 509.5,298.88 510,297.17 510.5,299.24 511,299.72 511.5,297.75 512,299.33 512.5,297.26 513,296.48 513.5,300.8 514,298.91 514.5,298.83 515,298.85 515.5,298.86 516,301.62 516.5,297.76 517,299.08 517.5,301.89 518,300.53 518.5,301.16 519,301.46 519.5,303.29 520,303.46 520.5,299.26 521,299.96 521.5,300.91 522,300.29 522.5,301.5 523,303.7 523.5,302.01 524,301.75 524.5,304.01 525,301.89 525.5,303.56 526,303.34 526.5,304.07 527,302.52 527.5,304.02 528,304.02 528.5,304.71 529,303.58 529.5,304.82 530,303.18 530.5,302.55 531,303.56 531.5,302.52 532,306.14 532.5,306.13 533,305.62 533.5,303.24 534,303.36 534.5,306.88 535,305.05 535,346.47 534.5,349.79 534,345.59 533.5,346.8 533,344.73 532.5,349.33 532,349.09 531.5,348.51 531,348.63 530.5,345.23 530,346.58 529.5,344.2 529,348.32 528.5,347.31 528,347.37 527.5,347.73 527,345.32 526.5,346.08 526,347.59 525.5,343.52 525,345.28 524.5,344.41 524,345.87 523.5,343.55 523,346.63 522.5,342.5 522,341.66 521.5,344.57 521,342.6 520.5,344.24 520,343.53 519.5,340.79 519,344.25 518.5,343.38 518,340.28 517.5,338.47 517,340.47 516.5,339.34 516,338.69 515.5,339.01 515,336.27 514.5,335.48 514,336.96 513.5,335.68 513,337.51 512.5,337.71 512,334.8 511.5,335.27 511,334.99 510.5,334.39 510,330.27 509.5,332.89 509,331.19 508.5,327.26 508,327.06 507.5,322.83 507,324.75 506.5,319.61 506,317.72 505.5,317.27 505,315.69 504.5,311.59 504,311.04 503.5,305.83 503,302.97 502.5,306.49 502,301.94 501.5,304.98 501,304.87 500.5,302.21 500,301.09 499.5,303.31 499,302.32 498.5,300.82 498,301.92 497.5,299.89 497,300.61 496.5,301.25 496,301.87 495.5,303.97 495,298.95 494.5,302.18 494,298.77 493.5,299.43 493,302.6 492.5,302.58 492,302.45 491.5,298.67 491,299.49 490.5,300.24 490,300 489.5,299.84 489,300.17 488.5,298.45 488,295.27 487.5,294.53 487,297.71 486.5,297.1 486,297.04 485.5,293.59 485,291.92 484.5,292.11 484,292.62 483.5,291.25 483,289.7 482.5,291.8 482,289.75 481.5,289.65 481,290.9 480.5,288.53 480,288.66 479.5,291.11 479,286.64 478.5,286.72 478,287.86 477.5,289.01 477,288.17 476.5,287.36 476,288.04 475.5,286.11 475,286.77 474.5,285.8 474,288.09 473.5,287.69 473,287.48 472.5,286.93 472,288.06 471.5,285.38 471,287.32 470.5,285.87 470,285.01 469.5,286.15 469,283.83 468.5,285.48 468,281.79 467.5,284.67 467,281.49 466.5,281.66 466,284.61 465.5,284.76 465,284.03 464.5,282.32 464,281.08 463.5,281.69 463,279.34 462.5,280.86 462,279.24 461.5,278.82 461,279.38 460.5,282.38 460,280.26 459.5,277.86 459,279.8 458.5,279.37 458,280.27 457.5,280.72 457,277.82 456.5,276.9 456,276.4 455.5,276.26 455,278.19 454.5,279.56 454,275.22 453.5,278.09 453,277.72 452.5,276.9 452,278.05 451.5,277.22 451,276.86 450.5,275.7 450,273.05 449.5,274.3 449,271.88 448.5,272.69 448,275.47 447.5,274.24 447,272.46 446.5,273.06 446,271.93 445.5,272.23 445,272.76 444.5,271.92 444,268.86 443.5,271.8 443,268.91 442.5,269.36 442,267.71 441.5,267.93 441,268.33 440.5,270.41 440,268.27 439.5,269.54 439,269.96 438.5,267.12 438,265.45 437.5,267.11 437,264.18 436.5,264.9 436,266.49 435.5,262.66 435,266.64 434.5,264.95 434,265.02 433.5,261.31 433,260.76 432.5,264.63 432,261.28 431.5,263.29 431,262.74 430.5,261.57 430,262.37 429.5,257.97 429,257.66 428.5,259.12 428,257.41 427.5,256.22 427,256.72 426.5,257.29 426,256.72 425.5,255.64 425,258.14 424.5,257.86 424,258.67 423.5,256.28 423,258.34 422.5,254.69 422,256.02 421.5,255 421,255.54 420.5,254.4 420,255.85 419.5,254.51 419,255.5 418.5,251.61 418,252.78 417.5,251.64 417,255.15 416.5,253.02 416,253.42 415.5,250.44 415,250.69 414.5,251.34 414,251.96 413.5,251.85 413,252.5 412.5,249.2 412,251.95 411.5,249.84 411,251.19 410.5,252.33 410,252.15 409.5,250.27 409,250.46 408.5,250.09 408,247.85 407.5,248.29 407,249.21 406.5,250.46 406,249.46 405.5,248.17 405,245.6 404.5,246.54 404,245.26 403.5,247.71 403,248.37 402.5,247.08 402,245.48 401.5,248.68 401,247.34 400.5,245.33 400,245.56 399.5,246.42 399,247.5 398.5,245.48 398,245.21 397.5,244.99 397,247.97 396.5,245.14 396,246.46 395.5,243.38 395,246.31 394.5,247.74 394,247.6 393.5,246.24 393,245.3 392.5,243.78 392,243.86 391.5,242.56 391,245.77 390.5,245.12 390,246.62 389.5,246.19 389,242.98 388.5,243.04 388,245.24 387.5,242.77 387,245.4 386.5,242.63 386,246 385.5,241.61 385,241.87 384.5,243.49 384,241.75 383.5,244.03 383,243.23 382.5,243.65 382,243.76 381.5,243.33 381,243.41 380.5,240.2 380,243.67 379.5,243.03 379,241.64 378.5,244.31 378,244.03 377.5,244.41 377,243.52 376.5,244.12 376,240.09 375.5,243.57 375,242.12 374.5,243.02 374,243.58 373.5,242.55 373,241.84 372.5,238.82 372,238.74 371.5,239.86 371,240.32 370.5,238.82 370,240.49 369.5,238.68 369,240.85 368.5,240.53 368,240.47 367.5,239.07 367,240.39 366.5,238.31 366,242.03 365.5,241.69 365,239.37 364.5,238.92 364,238.69 363.5,238.3 363,241.59 362.5,237.92 362,236.42 361.5,238.03 361,239.42 360.5,239.42 360,239.7 359.5,240.33 359,238.9 358.5,238.73 358,240.38 357.5,238.42 357,235.77 356.5,236.82 356,239.76 355.5,237.84 355,239.62 354.5,235.46 354,238.14 353.5,235.51 353,235.65 352.5,237.56 352,238.98 351.5,235.52 351,234.59 350.5,235.94 350,238.35 349.5,235.06 349,237.22 348.5,236.86 348,236.1 347.5,234.22 347,237.06 346.5,235.06 346,236.44 345.5,237.33 345,235.41 344.5,236.41 344,235.5 343.5,235.53 343,232.77 342.5,233.09 342,233.28 341.5,232.82 341,232.13 340.5,235.17 340,235.66 339.5,231.91 339,232.15 338.5,232.1 338,231.24 337.5,233.13 337,231.13 336.5,233.26 336,234.2 335.5,230.29 335,233.4 334.5,233.16 334,233.64 333.5,234.3 333,234.04 332.5,233.66 332,230.36 331.5,230.15 331,234.07 330.5,230.31 330,229 329.5,232.41 329,231.93 328.5,232.5 328,230.65 327.5,232.04 327,233.21 326.5,230.62 326,228.26 325.5,228.1 325,230.55 324.5,229.74 324,228.01 323.5,232.19 323,230.09 322.5,228.75 322,228.43 321.5,228.98 321,229.32 320.5,229.42 320,227.52 319.5,229.77 319,230.26 318.5,227.6 318,229.67 317.5,230.86 317,230.24 316.5,231.23 316,228.14 315.5,230.03 315,227.33 314.5,228.82 314,229.26 313.5,227.45 313,228.14 312.5,229.02 312,229.96 311.5,228.78 311,230.38 310.5,228.32 310,225.69 309.5,227.34 309,228.87 308.5,228.05 308,229.62 307.5,227.27 307,226.43 306.5,228.44 306,228.95 305.5,226.31 305,226.15 304.5,227.95 304,228.67 303.5,226.39 303,227.11 302.5,224.26 302,225.33 301.5,225.03 301,224.42 300.5,223.94 300,226.86 299.5,225.85 299,225.09 298.5,224.02 298,221.99 297.5,221.07 297,221.81 296.5,221.43 296,220.08Z" fill="url(#rF)"/>
<path d="M299,203.85 299.95,227.07 300.87,204.24 301.79,220.88 302.55,215.55 303.39,228.32 304.27,212.32 305.29,226.68 305.91,214.18 306.71,229.75 307.41,211.51 308.32,238.9 309.24,214.82 310.03,235.47 310.73,214.55 311.82,226.62 312.54,207.11 313.5,227.69 314.12,209.27 314.73,232.89 315.51,217.75 316.51,230.46 317.25,212.43 317.95,226.68 318.96,219.39 319.74,227.55 320.76,219.42 321.68,224.01 322.67,214.13 323.43,225.35 324.29,218.07 324.97,227.04 325.89,212.63 326.75,231.61 327.3,209.54 328.13,233.31 328.88,215.83 329.51,234.92 330.3,215.03 330.92,242.54 331.67,211.29 332.22,237.8 332.81,214.67 333.5,230.82 334.21,221.55 334.82,229.39 335.47,217.03 336.24,235.15 337.04,216.13 337.63,238.1 338.36,220.09 339.14,230.13 339.74,213.36 340.41,230.44 340.9,218.89 341.49,227.54 342.33,217.56 342.89,234.47 343.45,214.22 343.91,232.64 344.51,215.19 344.99,255.89 345.45,216.48 346.02,233.75 346.66,218.53 347.1,231.68 347.76,221.29 348.36,234.17 348.89,215.5 349.48,232.63 349.98,212.22 350.38,232 350.79,212.7 351.31,232.88 351.69,220.49 352.18,237.33 352.56,215 353,239.12 353.52,223.45 354.1,236.35 354.49,212.88 354.9,236.49 355.22,224.74 355.77,235.8 356.33,215.24 356.8,231.72 357.22,219.78 357.68,240.72 358.03,212.99 358.42,243.64 358.91,222.72 359.35,241.98 359.74,193.58 360.18,236.83 360.68,212.94 361.2,240.03 361.73,216.15 362.28,250.41 362.76,223.72 363.13,242.43 363.48,222.01 363.99,233.92 364.4,220.9 364.83,244.62 365.31,214.87 365.87,232.31 366.29,214.96 366.82,238.64 367.27,215.84 367.7,231.99 368.02,224.53 368.55,242.61 369.07,214.58 369.64,237.2 370.01,214.83 370.49,238.64 371.06,224.49 371.47,241.92 372.04,221.26 372.51,240.68 373.05,219.36 373.57,244.84 374.04,214.36 374.41,239.05 374.9,218.84 375.38,245.32 375.97,221.63 376.32,239.28 376.86,224.64 377.34,233.19 377.89,213.87 378.44,234.71 378.79,223.06 379.24,240.56 379.65,225.06 380.15,236.44 380.67,213.73 381.02,237.29 381.41,218.04 381.87,246.32 382.19,221.61 382.6,246.43 382.92,216.51 383.38,245.94 383.73,220.83 384.22,247.67 384.54,221.69 385.1,231.68 385.6,222.1 386.01,242 386.51,216.59 386.85,244.98 387.35,217.66 387.81,262.4 388.16,220.89 388.74,237.42 389.21,216.89 389.75,248.32 390.18,223.7 390.51,247.83 390.91,219.67 391.33,237.31 391.79,219.09 392.18,246.95 392.6,230.15 392.98,248.71 393.53,214.59 393.98,240.37 394.56,218.03 395.01,240.79 395.59,216.04 395.96,251.06 396.38,220.28 396.87,238.88 397.27,218.68 397.61,245.96 398.01,216.3 398.39,251.39 398.97,217.96 399.55,242.44 400.11,224.15 400.69,246.76 401.25,227.32 401.83,249.73 402.3,228.04 402.71,251.33 403.18,229.23 403.68,242.89 404.22,227.43 404.58,250.83 405,220.36 405.54,242.01 406.04,224.45 406.61,251.24 407,224.06 407.38,248.89 407.78,220.83 408.2,256.12 408.75,226.2 409.17,246.47 409.58,229.75 409.92,240.64 410.3,219.2 410.74,253.11 411.17,225.5 411.54,257.97 412.07,220.99 412.46,247.2 412.9,226.65 413.48,247.8 414.04,225.75 414.47,247.4 414.95,223.32 415.5,251.75 415.86,221.65 416.21,247.48 416.64,226.38 417.16,248.55 417.51,228.18 417.85,248.45 418.28,236.1 418.74,256.56 419.18,238.27 419.64,250.06 420.08,235.43 420.41,255.25 420.75,236.58 421.16,248.81 421.57,224.1 421.89,242.87 422.41,232.96 422.91,259.34 423.26,235.54 423.67,247.72 424.12,230.21 424.69,256.78 425.25,223.12 425.74,272.17 426.3,227.54 426.7,249.41 427.2,225.02 427.53,252.68 428.06,229.42 428.52,258.82 429.07,228.12 429.54,257.28 429.89,232.71 430.46,257.03 430.92,232.21 431.48,264.61 431.95,229.01 432.44,266.7 432.99,241.45 433.52,261.65 433.93,236.64 434.26,267.48 434.73,245.41 435.3,265.09 435.74,243.78 436.15,261.51 436.55,233.78 437.01,258.77 437.57,233.87 437.97,267.38 438.3,232.36 438.73,257.48 439.17,231.97 439.63,266.13 440.07,236.31 440.55,268.91 441.09,251.36 441.46,263.49 441.85,238.81 442.24,274.14 442.77,231.27 443.33,271.75 443.83,242.39 444.29,274.41 444.68,233.97 445.09,274.89 445.55,239.42 445.96,282.46 446.49,252.68 446.88,269.11 447.2,250.97 447.71,266.13 448.23,252.96 448.74,281.49 449.16,254.08 449.73,272.53 450.26,237.95 450.67,275.92 451.21,241.62 451.55,273.94 451.93,241.58 452.4,268.82 452.88,250.31 453.26,266.4 453.77,241.43 454.25,274.52 454.73,254.81 455.23,282.53 455.77,254.29 456.17,269.3 456.64,254.06 457.05,279.36 457.63,256.9 458.04,276.54 458.36,255.01 458.84,276.11 459.33,245.83 459.84,272.13 460.2,245.45 460.72,283.63 461.19,248.07 461.58,266.48 462.16,250.52 462.51,277.18 463.04,250.8 463.52,277.15 463.88,247.59 464.29,275.9 464.67,247.89 465.19,287.23 465.53,257.51 465.94,271.81 466.34,251.32 466.74,278.35 467.11,250 467.68,271.89 468.23,253.64 468.68,283.42 469.06,263.46 469.62,282.86 470.03,249.95 470.51,284.08 471.04,248.76 471.59,274.84 471.99,259.33 472.34,288.84 472.84,262.08 473.38,289.39 473.78,263.92 474.34,282.56 474.8,255.59 475.18,290.15 475.76,258.61 476.32,288.38 476.68,265.81 477.06,290.09 477.37,252.81 477.79,284 478.17,263.83 478.62,292.14 479,257.65 479.4,289.39 479.94,257.83 480.45,294.08 480.79,258.05 481.24,290.23 481.62,255.87 482.14,293.54 482.58,271.15 483.09,281.65 483.61,255.17 484.17,298.06 484.59,271.68 484.94,291.91 485.32,267.93 485.78,294.86 486.21,259.4 486.69,290.85 487.07,271.85 487.51,286.14 487.88,254.97 488.22,288.83 488.77,258.77 489.16,293.61 489.71,266.68 490.06,305.6 490.52,268.92 491.08,290.6 491.65,269.31 492.14,301.79 492.55,260.01 493.04,299.69 493.39,280.97 493.78,289.97 494.12,264.2 494.5,300.99 494.92,278.78 495.4,295.27 495.9,274.6 496.23,296.84 496.56,270.25 497.09,299.53 497.49,272.76 497.91,292.2 498.42,265.47 498.98,304.79 499.41,268 499.99,318.36 500.5,265.32 500.83,306.62 501.4,268.87 501.92,311.02 502.39,265.76 502.96,292.82 503.42,269.92 503.89,309.01 504.32,284.37 504.74,310.64 505.26,285.86 505.67,312.54 506.04,284.66 506.56,309.17 506.89,283.66 507.43,307.89 507.95,295.82 508.52,331.54 509.01,293.5 509.46,328.27 509.78,301.93 510.13,331.8 510.55,294.75 511.11,330.84 511.45,310.13 511.77,329.05 512.21,292 512.68,339.75 513,305.04 513.38,325.31 513.89,302.07 514.48,334.9 514.9,312.4 515.3,340.14 515.74,301.29 516.24,344.13 516.78,305.71 517.19,333.34 517.72,304.7 518.1,355.05 518.6,299.32 518.98,346.96 519.46,301.09 519.88,342.2 520.28,301.69 520.76,346.57 521.21,295.44 521.67,338.22 521.99,308.26 522.52,346.28 522.86,300.45 523.33,346.81 523.76,308.45 524.29,348.4 524.76,321.01 525.17,337.92 525.51,313.88 525.84,332.66 526.37,300.33 526.83,340.59 527.2,310.32 527.78,333.56 528.17,316.11 528.69,335.38 529.06,317.31 529.45,346.16 529.87,303.08 530.37,329.1 530.76,311.29 531.14,346.44 531.66,299.93 532.07,343.51 532.54,311.53 532.86,328.23 533.26,321.58 533.78,330.54 534.1,304.31 534.56,344.96 535.1,300.71" fill="none" stroke="url(#rS)" stroke-width="0.6" stroke-linejoin="round"/>
<path d="M298,216.96 300.05,214.24 301.34,218.66 303.09,224.99 305.56,222.17 306.94,217.99 308.18,222.53 310.31,221.03 312.7,216.18 314.15,224.39 316.89,219.14 318.17,225.32 320.69,221.17 322.98,230.42 324.93,221.5 326.28,218.55 327.88,225.93 330.19,222.97 332.75,228.19 334.72,224.04 337.13,224.08 339.24,223.14 341.67,228.18 343.57,218.27 345.52,231.47 347.19,218.39 349.59,227.54 351.73,221.76 353.04,227.08 354.98,229.91 356.59,232.19 358.67,226.28 359.99,230.83 362.84,220.73 364.07,228.65 366.97,221.55 368.32,233.51 369.82,227.16 371.08,232.04 373.85,239.09 376.31,236.17 378.2,228 380.52,239.36 383.49,229.58 386.31,235.69 389.02,229.6 390.85,233.42 393.67,239.74 396.29,232.46 397.63,242.74 399.52,231.41 401.69,236.49 403.6,231.96 405.54,234.97 407.47,229.35 410.38,228.4 412.29,240.98 415.23,235.2 416.64,231.78 418.69,244.94 421.46,241.01 422.93,243.46 425.34,247.84 427.65,238.27 430.07,249.71 432.91,251.26 434.41,248.43 437.12,251.46 439.93,246.56 442.59,263.6 444.04,247.27 447.02,266.42 449.3,257.21 450.96,264.68 453.36,261.36 455.21,257.12 457.62,264.61 458.84,253.93 460.94,262.54 463.54,266.52 465.93,269.03 467.61,262.74 470.18,268.7 472.37,274.04 473.69,269.3 475.65,277.24 477.65,270.83 480.26,260.86 482.46,281.43 484.15,278.14 486.57,280 488.57,285.42 491.23,280.81 492.5,286.23 494.17,278.4 495.98,269.95 498.81,289.62 500.54,288.41 502.17,288.67 503.54,285.66 505.43,307.48 507.69,294.97 510.17,315.04 511.8,318.39 513.77,314.07 515.68,323.65 517.05,320.02 518.63,325.87 519.94,315.98 521.15,331.9 523.67,315.82 525.35,328.58 528.27,332.17 529.85,316.43 531.63,326.53 533.74,325.61" fill="none" stroke="url(#rW)" stroke-width="0.5" stroke-opacity="0.6" stroke-linejoin="round"/>
<path d="M335.98,224.56 v2.32 M374.54,232.14 v4.4 M527.14,329.17 v3.91 M406.95,228.57 v2.9 M440.49,264.46 v2.43 M428.57,241.59 v1.53 M307.61,213.99 v3.13 M512.44,297.99 v2.61 M490.58,296.82 v1.56 M313.8,213.99 v2.14 M384.61,232.94 v1.16 M517.11,325.01 v2.87 M531.98,321.97 v2.05 M475.49,279.33 v3.51 M503.06,270.77 v4.26 M362.5,230.04 v1.9 M420.99,252.45 v2.19 M532.86,323.71 v4.26 M415.18,234.08 v3.85 M365.71,234.84 v1.99 M386.34,236.75 v2.34 M475.83,261.09 v1.66 M324.77,227.26 v3.85 M486.95,292.04 v1.01 M486.19,262.36 v1.58 M307.51,213.28 v1.08 M508.35,300.59 v2.89 M450.64,252.49 v2.75 M452.08,271.59 v2.65 M371.43,236.67 v2.97 M431.6,255.35 v4.06 M433.1,246.99 v4.32 M495.92,270.07 v3.8 M373.67,223.46 v3.75 M482.28,288.43 v3.4 M349.39,216.36 v1.58 M317.56,216.8 v3.09 M465.23,257.58 v2.59 M465.24,259.76 v1.5 M323.08,213.75 v1.79 M494.28,284.72 v1.22 M380.02,228.97 v2.43 M302.81,212.24 v1.88 M377.63,229.05 v1.5 M393.74,228.18 v4.42 M333.37,226.93 v3.09 M532.22,341.72 v1.23 M316.79,223.11 v1.9 M378,226.75 v3.2 M403.58,222.16 v3.61 M468.57,261.76 v1.42 M366.05,217.1 v2.19 M532.91,328.2 v1.67 M527.22,306.87 v1.14 M421.09,233.03 v2.77 M320.09,225.83 v3.71 M408.26,233.91 v2.73 M512.09,300.3 v2.79 M432.43,250.72 v3.31 M492.31,269.58 v1.28 M387.92,221.26 v2.82 M530.76,317.14 v1.46 M525.05,312.5 v1.65 M306.21,210.88 v4.03 M435.42,247.66 v1.59 M386.01,218.3 v2.4 M346.53,229.12 v2.73 M506.91,286.16 v3.4 M451.92,250.09 v1.87 M432.52,235.91 v2.67 M367.47,231.7 v1.18 M337.66,222.66 v1.66 M457.21,252.49 v3.79 M359.46,231.62 v1.43 M455.53,244.87 v4.22 M466.16,277.58 v1.07 M341.22,219.99 v1.5 M394.79,228.8 v2.07 M350.66,220.86 v1.67 M516.26,320.46 v3.11 M301.26,212.74 v3.27 M307.21,210.79 v1.78 M477.92,278.81 v1.92 M467.54,273.92 v4.02 M492.55,282.58 v4.05 M319.83,214.75 v1.9 M384.53,225.32 v1.09 M363.63,218.19 v1.68 M310.64,215.41 v4.34 M305.31,217.02 v4.13 M478.24,285.42 v2.4 M301.61,208.05 v4.46 M444.66,253.9 v1.57 M333.55,230.72 v3.52 M395.34,223.19 v3.76 M498.35,269.48 v2.02 M338.9,221.83 v1.81 M405.5,223.39 v4.3 M344.83,233.6 v3.8 M491.93,292.99 v3.7 M333.08,220.93 v1.85 M454.38,252.36 v2.76 M350.36,214.29 v3.45 M434.15,256.96 v3.42 M451.66,264.62 v2.26 M465.66,271.92 v2.39 M376.81,229.93 v3 M441.72,258.79 v4.36 M458.16,275.67 v1.89 M478.71,275.8 v1.72 M333.36,213.78 v4.49 M438.32,254.72 v1.55 M429.68,253.21 v2.26 M440.63,258.12 v3.6 M501.22,294.49 v4.48 M487.46,282.15 v2.67 M534.26,343.95 v1.6 M467.4,262.81 v3.35 M301.41,217.27 v2.65 M432.44,234.91 v2.71 M346.85,230.85 v2.72 M466.25,261.66 v4.47 M350.29,216.59 v1.83 M484.93,271.86 v2.37 M453.13,261.52 v3.63 M489.92,264.02 v2.73 M511.44,303.16 v4.18 M449,246.73 v2.32 M491.72,296.65 v1.76 M367.11,219.89 v2.95 M372.63,225.78 v2.95 M507.9,320.2 v1.65 M339.91,222.06 v3.59 M326.71,220.33 v4.11 M516.87,337.46 v2.71 M457.97,262.15 v2.35 M492.55,278.6 v3.65 M349.44,214.86 v3.6 M434.46,246.71 v1.21 M527.26,308.09 v1.68 M345.1,225.93 v1.76 M483.28,262.68 v2.02 M472.76,269 v3.05 M499.99,284.5 v3.87 M393.53,243.38 v3.87 M352.78,231.21 v4.15 M400.57,226.71 v2.17 M433.35,246.85 v1.75 M511.85,299.13 v1.83 M314.15,218.31 v1.02 M528.51,336.56 v3.36 M467.9,268.2 v1.66 M376.76,228.95 v3.77 M509.54,318.5 v3.19 M360.72,234.34 v3.4 M364.92,215.35 v4.25 M316.3,218.67 v2.71 M405.54,224.57 v2.37 M525.52,315.5 v4.43 M429.25,246.06 v4.24 M355.63,221.03 v2.63 M422.9,248.35 v1.75 M383.65,227.84 v3.15 M328.97,222.07 v2.89 M420.21,246.82 v3.34 M496.53,287.46 v2.62 M473.96,274.11 v2.06 M501.58,293.93 v3.92 M466.81,272.81 v3.01 M304.94,224.38 v1.32 M372.18,221.42 v2.92 M477.82,272.4 v3.4 M425.83,230.87 v1.64 M482.06,275 v2 M408.81,236.55 v3.25 M516.3,316.2 v4.1 M510.27,319.76 v4.09 M511.25,319.57 v4.29 M421.57,250.59 v2.85 M343.68,221.44 v3.49 M391.62,222.37 v4.03 M353.35,231.28 v3.74 M512.65,306.14 v3.73 M327.26,220.21 v1.14 M515.75,329.37 v2.77 M509.15,305.59 v4.49 M494.66,294.79 v3.17 M367.39,235.94 v3.63 M299.78,223.01 v2.23 M475.35,273.8 v2.37 M425.68,245.56 v1.29 M491.6,270.24 v1.82 M378.97,239.82 v2.69 M500.94,274.93 v2.39 M468.75,281.89 v2.38 M379.24,227.95 v1.44 M517.63,310.5 v2.17 M365.03,222.23 v1.24 M376.21,233.16 v2.9 M320.12,218.73 v2.54 M476.6,284.3 v1.56 M334.79,215.32 v2.42 M334.47,220.34 v1.04 M376.24,221.7 v4.26 M365.52,233.12 v2.53 M449.09,250.14 v3.2 M464.86,263.59 v2.44 M356.11,236.5 v2.33 M511.31,331.84 v1.1 M487.06,267.81 v2.28 M464.22,257.1 v3.04 M371.52,221.19 v2.69 M402.22,238.61 v2.14 M379.61,230.25 v1.29 M475.82,264.64 v1.85 M357.55,214.98 v3.17 M486.64,282.98 v2.64 M360.42,224.86 v2.37 M522.67,337.7 v2.11 M363.01,225.78 v1.92 M300.24,213.2 v2.4 M437.96,235.17 v1.67 M308.87,211.52 v2.67 M417.71,226.47 v3.44 M441.54,236.47 v3.97 M425.88,228.08 v4.41 M348.84,230.17 v3.41 M443,255.82 v2.77 M510.02,307.57 v2.25 M383.51,236.18 v2.82 M356.86,233.19 v1.6 M507.52,303.78 v1.17 M466.24,277.65 v2.05 M367.73,226.98 v1.65 M455.93,265.64 v1.13 M325.33,223.64 v1.9 M349.49,234.89 v2.44 M382.44,236.76 v4.04 M517.61,321.99 v3.14 M382.82,233.31 v1.93 M304.29,226.05 v3.3 M478.61,281.69 v1.56 M437.82,264.78 v1.04 M499.87,271.57 v2.2 M309.9,223.57 v3.57 M329.77,223.95 v3.17 M412.5,244.44 v4.12 M447.52,269.47 v2.84 M304.53,219.15 v1.96 M421.39,243.29 v1.18 M486.54,291.6 v3.25 M318.02,229.43 v1.69 M375.35,223.54 v2.71 M513.94,322.04 v2.5 M532.4,306.4 v3.29 M500.27,282.36 v3.75 M356.47,224.14 v1 M524.98,323.03 v4.02 M416.41,234.51 v1.86 M533.02,321.03 v1.06 M531.43,326.26 v3.96 M409.3,229.87 v2.81 M386.65,237.93 v1.19 M431,247.75 v1.61 M327.98,217.61 v2.11 M323.5,227.87 v4.06 M506.51,289.31 v3.37 M310.69,222.75 v4.3 M426.91,249.52 v3.87 M521.22,310.94 v2.27 M369.43,234.39 v2.6 M336.01,226.82 v3.99 M439.37,244.99 v1.3 M424.59,251.17 v3.97 M533.98,334.68 v2.46 M368.44,238.32 v1.95 M516.37,312.93 v4.25 M410.79,235.48 v1.3 M307.06,224.21 v3.3 M310.67,223.69 v1.81 M327.87,225.93 v2.91 M302.05,214.28 v3.4 M425.36,237.08 v3.91 M432.44,232.33 v2.15 M519.99,329.21 v4.02 M483.19,268.89 v1.82 M436.37,245.02 v4.33 M462.86,256.08 v3.01 M307.09,226.61 v3.59 M464.44,268.87 v2.64 M499.73,300.31 v3.72 M368.42,238.69 v4.02 M393.59,232.92 v2.39 M321.79,225.33 v2.25 M510.44,318.8 v3.31 M340.26,225.09 v1.33 M367.16,236.56 v4.01 M440.78,265.12 v2.61 M475.74,283.78 v4.17 M451.34,265.09 v2.92 M438.14,251.33 v3.75 M337.47,227.05 v3.42 M486.14,283.25 v2.86 M308.22,215.63 v4.14 M502.23,272.77 v3.28 M510.54,300.7 v2.23 M324.71,230.38 v1.45 M310.18,221.4 v2.69 M488.28,264.76 v1.84 M488.27,272.83 v3.69 M324.03,217.52 v3.27 M385.06,222.19 v1.36 M419.87,240.79 v3.51 M444.55,265.25 v3.68 M476.91,263.84 v3.92 M529.16,340.31 v1.84 M506.52,302.49 v3.45 M435.23,258.43 v1.37 M367.59,236.93 v1.8 M347.99,217.04 v2.44 M369.97,231.53 v3.05 M317.8,225.72 v1.58 M322.02,227.11 v2.58 M355.74,234.78 v4.24 M353.84,216.64 v4.24 M390.59,222.81 v2.82 M379.38,228.36 v2.73 M349.55,214.2 v3.35 M336.98,226.97 v4.22 M312.32,221.12 v1.73 M377.67,227.25 v3.52 " stroke="#f01414" stroke-width="0.75" stroke-opacity="0.85" fill="none"/>
<path d="M295.21,214.14 V212.92 M295.66,214.14 V211.73 M296.11,214.14 V208.75 M296.56,214.14 V208.57 M297.01,214.14 V205.19 M297.46,214.14 V208.61 M297.91,214.14 V210.66 M298.36,214.14 V211.68 M298.81,214.14 V213.17 M357.26,222.71 V221.46 M357.71,222.71 V217.75 M358.16,222.71 V213.98 M358.61,222.71 V208.33 M359.06,222.71 V217.09 M359.51,222.71 V217.13 M359.96,222.71 V221.7 M424.13,234.95 V232.7 M424.58,234.95 V230.86 M425.03,234.95 V229.45 M425.48,234.95 V226.94 M425.93,234.95 V226.18 M426.38,234.95 V220.45 M426.83,234.95 V223.24 M427.28,234.95 V222.47 M427.73,234.95 V212.46 M428.18,234.95 V209.03 M428.63,234.95 V214.13 M429.08,234.95 V204.63 M429.53,234.95 V214.83 M429.98,234.95 V210.82 M430.43,234.95 V208.91 M430.88,234.95 V210.97 M431.33,234.95 V223.42 M431.78,234.95 V219.26 M432.23,234.95 V222.05 M432.68,234.95 V224.14 M433.13,234.95 V224.43 M433.58,234.95 V229.42 M434.03,234.95 V231.29 M434.48,234.95 V229.8 M434.93,234.95 V232.18 M435.38,234.95 V232.98 M430.76,237.16 V235.37 M431.21,237.16 V230.36 M431.66,237.16 V229.55 M432.11,237.16 V222.99 M432.56,237.16 V214.49 M433.01,237.16 V216.88 M433.46,237.16 V218.76 M433.91,237.16 V225.45 M434.36,237.16 V228.62 M434.81,237.16 V230.54 M442,245.81 V242.31 M442.45,245.81 V238.92 M442.9,245.81 V240.36 M443.35,245.81 V233.51 M443.8,245.81 V232.22 M444.25,245.81 V230.36 M444.7,245.81 V232.88 M445.15,245.81 V228.79 M445.6,245.81 V228.09 M446.05,245.81 V205.68 M446.5,245.81 V198.03 M446.95,245.81 V208.33 M447.4,245.81 V222.66 M447.85,245.81 V228.98 M448.3,245.81 V219.94 M448.75,245.81 V233.97 M449.2,245.81 V228.26 M449.65,245.81 V235.22 M450.1,245.81 V237.18 M450.55,245.81 V238.93 M451,245.81 V239.1 M451.96,247.48 V241.91 M452.41,247.48 V224.84 M452.86,247.48 V227.34 M453.31,247.48 V207.93 M453.76,247.48 V211.71 M454.21,247.48 V229.36 M454.66,247.48 V242.72 M449.77,247.6 V243.3 M450.22,247.6 V240.44 M450.67,247.6 V239.82 M451.12,247.6 V240.45 M451.57,247.6 V233.12 M452.02,247.6 V233.85 M452.47,247.6 V226.21 M452.92,247.6 V221.31 M453.37,247.6 V217.58 M453.82,247.6 V220.77 M454.27,247.6 V227.08 M454.72,247.6 V226.85 M455.17,247.6 V221.99 M455.62,247.6 V225.67 M456.07,247.6 V237.9 M456.52,247.6 V234.56 M456.97,247.6 V238.72 M457.42,247.6 V243.99 M457.87,247.6 V244.08 M456.54,248.82 V246.46 M456.99,248.82 V245.61 M457.44,248.82 V242.38 M457.89,248.82 V238.36 M458.34,248.82 V238.1 M458.79,248.82 V230.64 M459.24,248.82 V229.41 M459.69,248.82 V234.6 M460.14,248.82 V240.74 M460.59,248.82 V241.25 M461.04,248.82 V245.43 M461.49,248.82 V245.64 M465.02,251.08 V247.85 M465.47,251.08 V243.87 M465.92,251.08 V240.64 M466.37,251.08 V244.05 M466.82,251.08 V237.26 M467.27,251.08 V232.92 M467.72,251.08 V229.2 M468.17,251.08 V220.76 M468.62,251.08 V224.52 M469.07,251.08 V216.53 M469.52,251.08 V223.4 M469.97,251.08 V228.92 M470.42,251.08 V235.05 M470.87,251.08 V241.57 M471.32,251.08 V240.33 M471.77,251.08 V247.1 M472.22,251.08 V247.53 M469.49,251.98 V250.3 M469.94,251.98 V249.22 M470.39,251.98 V245.36 M470.84,251.98 V240.23 M471.29,251.98 V236.43 M471.74,251.98 V232.96 M472.19,251.98 V240.38 M472.64,251.98 V235.2 M473.09,251.98 V236.73 M473.54,251.98 V243.5 M473.99,251.98 V244.99 M474.44,251.98 V248.34 M474.89,251.98 V248.11 M497.21,265.37 V262.09 M497.66,265.37 V260.6 M498.11,265.37 V261.19 M498.56,265.37 V258.08 M499.01,265.37 V255.36 M499.46,265.37 V255.33 M499.91,265.37 V256.78 M500.36,265.37 V259.67 M500.81,265.37 V262.52 M508.09,286.07 V275.09 M508.54,286.07 V255.99 M508.99,286.07 V269.97 M509.44,286.07 V283.83 M518.49,295.22 V280.76 M518.94,295.22 V249 M519.39,295.22 V275.39 M528.49,297.37 V295.53 M528.94,297.37 V292.88 M529.39,297.37 V289.3 M529.84,297.37 V287.98 M530.29,297.37 V284.61 M530.74,297.37 V281.95 M531.19,297.37 V278 M531.64,297.37 V279.26 M532.09,297.37 V280.07 M532.54,297.37 V289.3 M532.99,297.37 V289.67 M533.44,297.37 V293.27 M533.89,297.37 V294.78 " stroke="#f98080" stroke-width="0.6" fill="none"/><path d="M297,214.14 V202 M358.6,222.71 V207 M429.5,234.95 V198 M433,237.16 V203 M446.7,245.81 V191.4 M453.3,247.48 V183 M453.8,247.6 V200 M459,248.82 V222 M468.6,251.08 V208.6 M472.4,251.98 V223.8 M499,265.37 V250 M508.6,286.07 V244 M519,295.22 V240 M531.4,297.37 V266 " stroke="#f33" stroke-width="0.7" fill="none"/>
<clipPath id="cb"><rect x="280" y="140" width="256" height="220"/></clipPath><g fill="none" stroke-opacity="0.35" clip-path="url(#cb)"><path d="M147.5,13.85 V376.6" stroke="#8c8c8c" stroke-width="1.2"/><path d="M244.5,13.85 V376.6" stroke="#bdbdbd" stroke-width="1"/><path d="M341,13.85 V376.6" stroke="#4b4b4b" stroke-width="1"/><path d="M437.5,13.85 V376.6" stroke="#8c8c8c" stroke-width="1.2"/><path d="M50.9,86.4 H535.3" stroke="#7c7c7c" stroke-width="1.2"/><path d="M50.9,159 H535.3" stroke="#3a3a3a" stroke-width="1"/><path d="M50.9,231.35 H535.3" stroke="#8c8c8c" stroke-width="1"/><path d="M50.9,304 H535.3" stroke="#414141" stroke-width="1"/></g>
<path d="M79.98,376 v-3.2 M96.99,376 v-3.2 M109.06,376 v-3.2 M118.42,376 v-3.2 M126.07,376 v-3.2 M132.54,376 v-3.2 M138.14,376 v-3.2 M143.08,376 v-3.2 M176.7,376 v-3.2 M193.78,376 v-3.2 M205.9,376 v-3.2 M215.3,376 v-3.2 M222.98,376 v-3.2 M229.47,376 v-3.2 M235.1,376 v-3.2 M240.06,376 v-3.2 M273.55,376 v-3.2 M290.54,376 v-3.2 M302.6,376 v-3.2 M311.95,376 v-3.2 M319.59,376 v-3.2 M326.05,376 v-3.2 M331.65,376 v-3.2 M336.58,376 v-3.2 M370.05,376 v-3.2 M387.04,376 v-3.2 M399.1,376 v-3.2 M408.45,376 v-3.2 M416.09,376 v-3.2 M422.55,376 v-3.2 M428.15,376 v-3.2 M433.08,376 v-3.2 M466.94,376 v-3.2 M484.16,376 v-3.2 M496.38,376 v-3.2 M505.86,376 v-3.2 M513.6,376 v-3.2 M520.15,376 v-3.2 M525.82,376 v-3.2 M530.82,376 v-3.2 " stroke="#7a7a7a" stroke-width="1" fill="none"/>
<path d="M79.98,14.5 v2.6 M96.99,14.5 v2.6 M109.06,14.5 v2.6 M118.42,14.5 v2.6 M126.07,14.5 v2.6 M132.54,14.5 v2.6 M138.14,14.5 v2.6 M143.08,14.5 v2.6 M176.7,14.5 v2.6 M193.78,14.5 v2.6 M205.9,14.5 v2.6 M215.3,14.5 v2.6 M222.98,14.5 v2.6 M229.47,14.5 v2.6 M235.1,14.5 v2.6 M240.06,14.5 v2.6 M273.55,14.5 v2.6 M290.54,14.5 v2.6 M302.6,14.5 v2.6 M311.95,14.5 v2.6 M319.59,14.5 v2.6 M326.05,14.5 v2.6 M331.65,14.5 v2.6 M336.58,14.5 v2.6 M370.05,14.5 v2.6 M387.04,14.5 v2.6 M399.1,14.5 v2.6 M408.45,14.5 v2.6 M416.09,14.5 v2.6 M422.55,14.5 v2.6 M428.15,14.5 v2.6 M433.08,14.5 v2.6 M466.94,14.5 v2.6 M484.16,14.5 v2.6 M496.38,14.5 v2.6 M505.86,14.5 v2.6 M513.6,14.5 v2.6 M520.15,14.5 v2.6 M525.82,14.5 v2.6 M530.82,14.5 v2.6 " stroke="#6a6a6a" stroke-width="1" fill="none"/>
<path d="M51.7,354.76 h2.4 M51.7,341.98 h2.4 M51.7,332.92 h2.4 M51.7,325.89 h2.4 M51.7,320.15 h2.4 M51.7,315.29 h2.4 M51.7,311.08 h2.4 M51.7,307.37 h2.4 M51.7,282.21 h2.4 M51.7,269.43 h2.4 M51.7,260.37 h2.4 M51.7,253.34 h2.4 M51.7,247.6 h2.4 M51.7,242.74 h2.4 M51.7,238.53 h2.4 M51.7,234.82 h2.4 M51.7,209.66 h2.4 M51.7,196.88 h2.4 M51.7,187.82 h2.4 M51.7,180.79 h2.4 M51.7,175.05 h2.4 M51.7,170.19 h2.4 M51.7,165.98 h2.4 M51.7,162.27 h2.4 M51.7,137.11 h2.4 M51.7,124.33 h2.4 M51.7,115.27 h2.4 M51.7,108.24 h2.4 M51.7,102.5 h2.4 M51.7,97.64 h2.4 M51.7,93.43 h2.4 M51.7,89.72 h2.4 M51.7,64.56 h2.4 M51.7,51.78 h2.4 M51.7,42.72 h2.4 M51.7,35.69 h2.4 M51.7,29.95 h2.4 M51.7,25.09 h2.4 M51.7,20.88 h2.4 M51.7,17.17 h2.4 " stroke="#ababab" stroke-width="1" fill="none"/>
<path d="M535,354.76 h-3 M535,341.98 h-3 M535,332.92 h-3 M535,325.89 h-3 M535,320.15 h-3 M535,315.29 h-3 M535,311.08 h-3 M535,307.37 h-3 M535,282.21 h-3 M535,269.43 h-3 M535,260.37 h-3 M535,253.34 h-3 M535,247.6 h-3 M535,242.74 h-3 M535,238.53 h-3 M535,234.82 h-3 M535,209.66 h-3 M535,196.88 h-3 M535,187.82 h-3 M535,180.79 h-3 M535,175.05 h-3 M535,170.19 h-3 M535,165.98 h-3 M535,162.27 h-3 M535,137.11 h-3 M535,124.33 h-3 M535,115.27 h-3 M535,108.24 h-3 M535,102.5 h-3 M535,97.64 h-3 M535,93.43 h-3 M535,89.72 h-3 M535,64.56 h-3 M535,51.78 h-3 M535,42.72 h-3 M535,35.69 h-3 M535,29.95 h-3 M535,25.09 h-3 M535,20.88 h-3 M535,17.17 h-3 " stroke="#9a9a9a" stroke-width="1" fill="none"/>
<path d="M51.2,13.5 V376.9" stroke="#4a4a4a" stroke-width="1" fill="none"/>
<path d="M535.5,13.5 V376.9" stroke="#7a7a7a" stroke-width="1" fill="none"/>
<path d="M50.7,14.0 H536" stroke="#949494" stroke-width="1" fill="none"/>
<path d="M50.7,376.45 H536" stroke="#ababab" stroke-width="1" fill="none"/>
<rect x="274.9" y="25.3" width="252.8" height="40.7" fill="#fff"/>
<path d="M274.9,25.3 H527.7" stroke="#d0d0d0" stroke-width="1"/>
<path d="M274.9,66 H527.7" stroke="#bcbcbc" stroke-width="1"/>
<path d="M274.9,24.8 V66.5" stroke="#a4a4a4" stroke-width="1.1"/>
<path d="M527.7,24.8 V66.5" stroke="#a4a4a4" stroke-width="1.1"/>
<path d="M282.5,36.4 H319.6" stroke="#c4c4c4" stroke-width="1.1"/>
<path d="M282.5,53.9 H319.6" stroke="#ffbcbc" stroke-width="1.1"/>
<text y="41.4" class="l"><tspan x="323.2">single </tspan><tspan x="369.3">gyro: </tspan><tspan x="407.6" style="letter-spacing:0.75px">0.040</tspan><tspan x="445.8" y="41.9" style="font-size:13.5px">°</tspan><tspan x="451.3" y="41.4" style="letter-spacing:0.6px">/s/√Hz</tspan></text>
<text y="61.1" class="l"><tspan x="323.2">combined </tspan><tspan x="395">gyro: </tspan><tspan x="434" style="letter-spacing:0.75px">0.009</tspan><tspan x="471.3" y="61.6" style="font-size:13.5px">°</tspan><tspan x="477.2" y="61.1" style="letter-spacing:0.6px">/s/√Hz</tspan></text><text x="50.9" y="395.6" text-anchor="middle" class="t">10<tspan class="s" dx="1.3" dy="-8.4">-3</tspan></text>
<text x="147.5" y="395.6" text-anchor="middle" class="t">10<tspan class="s" dx="1.3" dy="-8.4">-2</tspan></text>
<text x="244.5" y="395.6" text-anchor="middle" class="t">10<tspan class="s" dx="1.3" dy="-8.4">-1</tspan></text>
<text x="341" y="395.6" text-anchor="middle" class="t">10<tspan class="s" dx="1.3" dy="-8.4">0</tspan></text>
<text x="437.5" y="395.6" text-anchor="middle" class="t">10<tspan class="s" dx="1.3" dy="-8.4">1</tspan></text>
<text x="535.3" y="395.6" text-anchor="middle" class="t">10<tspan class="s" dx="1.3" dy="-8.4">2</tspan></text>
<text x="22.7" y="18.65" class="t">10<tspan class="s" dx="0.9" dy="-8.6">1</tspan></text>
<text x="22.7" y="91.2" class="t">10<tspan class="s" dx="0.9" dy="-8.6">0</tspan></text>
<text x="22.7" y="163.75" class="t">10<tspan class="s" dx="0.9" dy="-8.6">-1</tspan></text>
<text x="22.7" y="236.3" class="t">10<tspan class="s" dx="0.9" dy="-8.6">-2</tspan></text>
<text x="22.7" y="308.85" class="t">10<tspan class="s" dx="0.9" dy="-8.6">-3</tspan></text>
<text x="22.7" y="381.4" class="t">10<tspan class="s" dx="0.9" dy="-8.6">-4</tspan></text>
<text x="233.2" y="413.3" class="l" style="letter-spacing:0.35px">Frequency f (Hz)</text>
<text transform="translate(12.9,255.5) rotate(-90)" class="l" style="letter-spacing:0.59px">Rate (deg/s/√Hz)</text>
</svg>
</body></html>
